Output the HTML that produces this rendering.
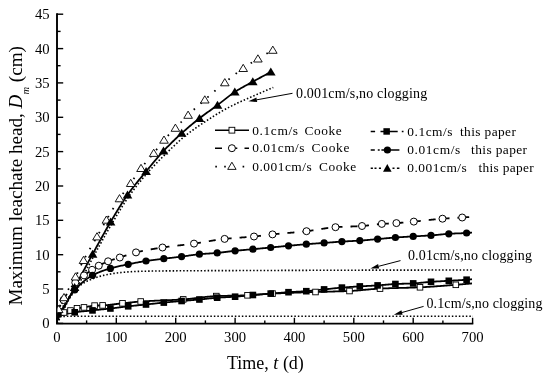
<!DOCTYPE html>
<html><head><meta charset="utf-8"><style>
html,body{margin:0;padding:0;background:#fff;width:550px;height:378px;overflow:hidden}
svg{display:block}
</style></head><body>
<svg width="550" height="378" viewBox="0 0 550 378">
<rect width="550" height="378" fill="#fff"/><g stroke="#000" stroke-width="1.4"><line x1="57" y1="323.4" x2="63.2" y2="323.4"/><line x1="57" y1="306.2" x2="60.6" y2="306.2"/><line x1="57" y1="289.0" x2="63.2" y2="289.0"/><line x1="57" y1="271.8" x2="60.6" y2="271.8"/><line x1="57" y1="254.7" x2="63.2" y2="254.7"/><line x1="57" y1="237.5" x2="60.6" y2="237.5"/><line x1="57" y1="220.3" x2="63.2" y2="220.3"/><line x1="57" y1="203.1" x2="60.6" y2="203.1"/><line x1="57" y1="186.0" x2="63.2" y2="186.0"/><line x1="57" y1="168.8" x2="60.6" y2="168.8"/><line x1="57" y1="151.6" x2="63.2" y2="151.6"/><line x1="57" y1="134.4" x2="60.6" y2="134.4"/><line x1="57" y1="117.3" x2="63.2" y2="117.3"/><line x1="57" y1="100.1" x2="60.6" y2="100.1"/><line x1="57" y1="82.9" x2="63.2" y2="82.9"/><line x1="57" y1="65.7" x2="60.6" y2="65.7"/><line x1="57" y1="48.6" x2="63.2" y2="48.6"/><line x1="57" y1="31.4" x2="60.6" y2="31.4"/><line x1="57" y1="14.2" x2="63.2" y2="14.2"/><line x1="56.9" y1="323.6" x2="56.9" y2="317.8"/><line x1="86.6" y1="323.6" x2="86.6" y2="320.4"/><line x1="116.3" y1="323.6" x2="116.3" y2="317.8"/><line x1="146.0" y1="323.6" x2="146.0" y2="320.4"/><line x1="175.7" y1="323.6" x2="175.7" y2="317.8"/><line x1="205.4" y1="323.6" x2="205.4" y2="320.4"/><line x1="235.1" y1="323.6" x2="235.1" y2="317.8"/><line x1="264.8" y1="323.6" x2="264.8" y2="320.4"/><line x1="294.4" y1="323.6" x2="294.4" y2="317.8"/><line x1="324.1" y1="323.6" x2="324.1" y2="320.4"/><line x1="353.8" y1="323.6" x2="353.8" y2="317.8"/><line x1="383.5" y1="323.6" x2="383.5" y2="320.4"/><line x1="413.2" y1="323.6" x2="413.2" y2="317.8"/><line x1="442.9" y1="323.6" x2="442.9" y2="320.4"/><line x1="472.6" y1="323.6" x2="472.6" y2="317.8"/></g><path d="M57,13.3 V324.5 M56,323.6 H473.3" stroke="#000" stroke-width="1.9" fill="none"/><g font-family="Liberation Serif, serif" font-size="14.7" fill="#000"><text x="49.6" y="328.4" text-anchor="end">0</text><text x="49.6" y="294.0" text-anchor="end">5</text><text x="49.6" y="259.7" text-anchor="end">10</text><text x="49.6" y="225.3" text-anchor="end">15</text><text x="49.6" y="191.0" text-anchor="end">20</text><text x="49.6" y="156.6" text-anchor="end">25</text><text x="49.6" y="122.3" text-anchor="end">30</text><text x="49.6" y="87.9" text-anchor="end">35</text><text x="49.6" y="53.6" text-anchor="end">40</text><text x="49.6" y="19.2" text-anchor="end">45</text><text x="56.9" y="341.7" text-anchor="middle">0</text><text x="116.3" y="341.7" text-anchor="middle">100</text><text x="175.7" y="341.7" text-anchor="middle">200</text><text x="235.1" y="341.7" text-anchor="middle">300</text><text x="294.4" y="341.7" text-anchor="middle">400</text><text x="353.8" y="341.7" text-anchor="middle">500</text><text x="413.2" y="341.7" text-anchor="middle">600</text><text x="472.6" y="341.7" text-anchor="middle">700</text></g><text x="227" y="369.2" font-family="Liberation Serif, serif" font-size="18" fill="#000">Time, <tspan font-style="italic">t</tspan> (d)</text><text transform="translate(22.0,305.6) rotate(-90)" font-family="Liberation Serif, serif" font-size="18" fill="#000" textLength="259.5" lengthAdjust="spacingAndGlyphs">Maximum leachate head, <tspan font-style="italic">D</tspan><tspan font-style="italic" font-size="10" dy="6.5">m</tspan><tspan dy="-6.5"> (cm)</tspan></text><defs><clipPath id="pc"><rect x="57.5" y="0" width="430" height="323"/></clipPath></defs><g clip-path="url(#pc)"><path d="M57.00,323.00 L57.75,320.04 L58.50,318.00 L59.38,317.31 L60.25,316.82 L61.12,316.52 L62.00,316.40 L63.00,316.37 L64.00,316.35 L65.00,316.34 L66.00,316.32 L67.00,316.31 L68.00,316.31 L69.00,316.30 L70.00,316.30 L71.00,316.30 L72.00,316.30 L73.00,316.30 L74.00,316.30 L75.00,316.30 L76.00,316.30 L77.00,316.30 L78.00,316.30 L79.00,316.30 L80.00,316.30 L81.00,316.30 L82.00,316.30 L83.00,316.30 L84.00,316.30 L85.00,316.30 L86.00,316.30 L87.00,316.30 L88.00,316.30 L89.00,316.30 L90.00,316.30 L91.00,316.30 L92.00,316.30 L93.00,316.30 L94.00,316.30 L95.00,316.30 L96.00,316.30 L97.00,316.30 L98.00,316.30 L99.00,316.30 L100.00,316.30 L101.00,316.30 L102.00,316.30 L103.00,316.30 L104.00,316.30 L105.00,316.30 L106.00,316.30 L107.00,316.30 L108.00,316.30 L109.00,316.30 L110.00,316.30 L111.00,316.30 L112.00,316.30 L113.00,316.30 L114.00,316.30 L115.00,316.30 L116.00,316.30 L117.00,316.30 L118.00,316.30 L119.00,316.30 L120.00,316.30 L121.00,316.30 L122.00,316.30 L123.00,316.30 L124.00,316.30 L125.00,316.30 L126.00,316.30 L127.00,316.30 L128.00,316.30 L129.00,316.30 L130.00,316.30 L131.00,316.30 L132.00,316.30 L133.00,316.30 L134.00,316.30 L135.00,316.30 L136.00,316.30 L137.00,316.30 L138.00,316.30 L139.00,316.30 L140.00,316.30 L141.00,316.30 L142.00,316.30 L143.00,316.30 L144.00,316.30 L145.00,316.30 L146.00,316.30 L147.00,316.30 L148.00,316.30 L149.00,316.30 L150.00,316.30 L151.00,316.30 L152.00,316.30 L153.00,316.30 L154.00,316.30 L155.00,316.30 L156.00,316.30 L157.00,316.30 L158.00,316.30 L159.00,316.30 L160.00,316.30 L161.00,316.30 L162.00,316.30 L163.00,316.30 L164.00,316.30 L165.00,316.30 L166.00,316.30 L167.00,316.30 L168.00,316.30 L169.00,316.30 L170.00,316.30 L171.00,316.30 L172.00,316.30 L173.00,316.30 L174.00,316.30 L175.00,316.30 L176.00,316.30 L177.00,316.30 L178.00,316.30 L179.00,316.30 L180.00,316.30 L181.00,316.30 L182.00,316.30 L183.00,316.30 L184.00,316.30 L185.00,316.30 L186.00,316.30 L187.00,316.30 L188.00,316.30 L189.00,316.30 L190.00,316.30 L191.00,316.30 L192.00,316.30 L193.00,316.30 L194.00,316.30 L195.00,316.30 L196.00,316.30 L197.00,316.30 L198.00,316.30 L199.00,316.30 L200.00,316.30 L201.00,316.30 L202.00,316.30 L203.00,316.30 L204.00,316.30 L205.00,316.30 L206.00,316.30 L207.00,316.30 L208.00,316.30 L209.00,316.30 L210.00,316.30 L211.00,316.30 L212.00,316.30 L213.00,316.30 L214.00,316.30 L215.00,316.30 L216.00,316.30 L217.00,316.30 L218.00,316.30 L219.00,316.30 L220.00,316.30 L221.00,316.30 L222.00,316.30 L223.00,316.30 L224.00,316.30 L225.00,316.30 L226.00,316.30 L227.00,316.30 L228.00,316.30 L229.00,316.30 L230.00,316.30 L231.00,316.30 L232.00,316.30 L233.00,316.30 L234.00,316.30 L235.00,316.30 L236.00,316.30 L237.00,316.30 L238.00,316.30 L239.00,316.30 L240.00,316.30 L241.00,316.30 L242.00,316.30 L243.00,316.30 L244.00,316.30 L245.00,316.30 L246.00,316.30 L247.00,316.30 L248.00,316.30 L249.00,316.30 L250.00,316.30 L251.00,316.30 L252.00,316.30 L253.00,316.30 L254.00,316.30 L255.00,316.30 L256.00,316.30 L257.00,316.30 L258.00,316.30 L259.00,316.30 L260.00,316.30 L261.00,316.30 L262.00,316.30 L263.00,316.30 L264.00,316.30 L265.00,316.30 L266.00,316.30 L267.00,316.30 L268.00,316.30 L269.00,316.30 L270.00,316.30 L271.00,316.30 L272.00,316.30 L273.00,316.30 L274.00,316.30 L275.00,316.30 L276.00,316.30 L277.00,316.30 L278.00,316.30 L279.00,316.30 L280.00,316.30 L281.00,316.30 L282.00,316.30 L283.00,316.30 L284.00,316.30 L285.00,316.30 L286.00,316.30 L287.00,316.30 L288.00,316.30 L289.00,316.30 L290.00,316.30 L291.00,316.30 L292.00,316.30 L293.00,316.30 L294.00,316.30 L295.00,316.30 L296.00,316.30 L297.00,316.30 L298.00,316.30 L299.00,316.30 L300.00,316.30 L301.00,316.30 L302.00,316.30 L303.00,316.30 L304.00,316.30 L305.00,316.30 L306.00,316.30 L307.00,316.30 L308.00,316.30 L309.00,316.30 L310.00,316.30 L311.00,316.30 L312.00,316.30 L313.00,316.30 L314.00,316.30 L315.00,316.30 L316.00,316.30 L317.00,316.30 L318.00,316.30 L319.00,316.30 L320.00,316.30 L321.00,316.30 L322.00,316.30 L323.00,316.30 L324.00,316.30 L325.00,316.30 L326.00,316.30 L327.00,316.30 L328.00,316.30 L329.00,316.30 L330.00,316.30 L331.00,316.30 L332.00,316.30 L333.00,316.30 L334.00,316.30 L335.00,316.30 L336.00,316.30 L337.00,316.30 L338.00,316.30 L339.00,316.30 L340.00,316.30 L341.00,316.30 L342.00,316.30 L343.00,316.30 L344.00,316.30 L345.00,316.30 L346.00,316.30 L347.00,316.30 L348.00,316.30 L349.00,316.30 L350.00,316.30 L351.00,316.30 L352.00,316.30 L353.00,316.30 L354.00,316.30 L355.00,316.30 L356.00,316.30 L357.00,316.30 L358.00,316.30 L359.00,316.30 L360.00,316.30 L361.00,316.30 L362.00,316.30 L363.00,316.30 L364.00,316.30 L365.00,316.30 L366.00,316.30 L367.00,316.30 L368.00,316.30 L369.00,316.30 L370.00,316.30 L371.00,316.30 L372.00,316.30 L373.00,316.30 L374.00,316.30 L375.00,316.30 L376.00,316.30 L377.00,316.30 L378.00,316.30 L379.00,316.30 L380.00,316.30 L381.00,316.30 L382.00,316.30 L383.00,316.30 L384.00,316.30 L385.00,316.30 L386.00,316.30 L387.00,316.30 L388.00,316.30 L389.00,316.30 L390.00,316.30 L391.00,316.30 L392.00,316.30 L393.00,316.30 L394.00,316.30 L395.00,316.30 L396.00,316.30 L397.00,316.30 L398.00,316.30 L399.00,316.30 L400.00,316.30 L401.00,316.30 L402.00,316.30 L403.00,316.30 L404.00,316.30 L405.00,316.30 L406.00,316.30 L407.00,316.30 L408.00,316.30 L409.00,316.30 L410.00,316.30 L411.00,316.30 L412.00,316.30 L413.00,316.30 L414.00,316.30 L415.00,316.30 L416.00,316.30 L417.00,316.30 L418.00,316.30 L419.00,316.30 L420.00,316.30 L421.00,316.30 L422.00,316.30 L423.00,316.30 L424.00,316.30 L425.00,316.30 L426.00,316.30 L427.00,316.30 L428.00,316.30 L429.00,316.30 L430.00,316.30 L431.00,316.30 L432.00,316.30 L433.00,316.30 L434.00,316.30 L435.00,316.30 L436.00,316.30 L437.00,316.30 L438.00,316.30 L439.00,316.30 L440.00,316.30 L441.00,316.30 L442.00,316.30 L443.00,316.30 L444.00,316.30 L445.00,316.30 L446.00,316.30 L447.00,316.30 L448.00,316.30 L449.00,316.30 L450.00,316.30 L451.00,316.30 L452.00,316.30 L453.00,316.30 L454.00,316.30 L455.00,316.30 L456.00,316.30 L457.00,316.30 L458.00,316.30 L459.00,316.30 L460.00,316.30 L461.00,316.30 L462.00,316.30 L463.00,316.30 L464.00,316.30 L465.00,316.30 L466.00,316.30 L467.00,316.30 L468.00,316.30 L469.00,316.30 L470.00,316.30 L471.00,316.30 L472.00,316.30 L473.00,316.30" fill="none" stroke="#000" stroke-width="1.6" stroke-dasharray="1.5 2.0"/><path d="M57.00,323.00 L58.00,319.49 L59.00,315.99 L60.00,313.00 L61.00,310.59 L62.00,308.43 L63.00,306.48 L64.00,304.69 L65.00,303.00 L65.92,301.51 L66.85,300.08 L67.78,298.72 L68.70,297.42 L69.62,296.18 L70.55,295.00 L71.48,293.87 L72.40,292.80 L73.35,291.74 L74.30,290.71 L75.25,289.72 L76.20,288.77 L77.15,287.87 L78.10,287.02 L79.05,286.23 L80.00,285.50 L80.91,284.85 L81.82,284.22 L82.73,283.63 L83.64,283.05 L84.55,282.51 L85.46,281.99 L86.37,281.50 L87.28,281.04 L88.19,280.61 L89.10,280.20 L90.07,279.79 L91.03,279.39 L92.00,279.00 L92.97,278.63 L93.93,278.27 L94.90,277.92 L95.87,277.59 L96.83,277.26 L97.80,276.96 L98.77,276.66 L99.73,276.38 L100.70,276.11 L101.67,275.86 L102.63,275.62 L103.60,275.40 L104.57,275.19 L105.54,274.98 L106.52,274.77 L107.49,274.57 L108.46,274.38 L109.43,274.19 L110.41,274.01 L111.38,273.83 L112.35,273.66 L113.32,273.50 L114.29,273.35 L115.27,273.20 L116.24,273.06 L117.21,272.93 L118.18,272.81 L119.16,272.70 L120.13,272.59 L121.10,272.50 L122.09,272.41 L123.09,272.32 L124.08,272.23 L125.08,272.15 L126.07,272.07 L127.07,271.99 L128.06,271.91 L129.06,271.84 L130.05,271.77 L131.05,271.70 L132.04,271.64 L133.04,271.58 L134.03,271.53 L135.03,271.48 L136.02,271.43 L137.02,271.39 L138.01,271.36 L139.01,271.33 L140.00,271.30 L141.00,271.28 L142.00,271.26 L143.00,271.23 L144.00,271.21 L145.00,271.19 L146.00,271.18 L147.00,271.16 L148.00,271.14 L149.00,271.12 L150.00,271.11 L151.00,271.09 L152.00,271.07 L153.00,271.06 L154.00,271.04 L155.00,271.03 L156.00,271.02 L157.00,271.00 L158.00,270.99 L159.00,270.98 L160.00,270.97 L161.00,270.96 L162.00,270.94 L163.00,270.93 L164.00,270.92 L165.00,270.91 L166.00,270.90 L167.00,270.90 L168.00,270.89 L169.00,270.88 L170.00,270.87 L171.00,270.86 L172.00,270.85 L173.00,270.85 L174.00,270.84 L175.00,270.83 L176.00,270.83 L177.00,270.82 L178.00,270.81 L179.00,270.81 L180.00,270.80 L181.00,270.79 L182.00,270.79 L183.00,270.78 L184.00,270.78 L185.00,270.77 L186.00,270.77 L187.00,270.76 L188.00,270.75 L189.00,270.75 L190.00,270.74 L191.00,270.74 L192.00,270.73 L193.00,270.73 L194.00,270.72 L195.00,270.72 L196.00,270.72 L197.00,270.71 L198.00,270.71 L199.00,270.70 L200.00,270.70 L201.00,270.69 L202.00,270.69 L203.00,270.68 L204.00,270.68 L205.00,270.68 L206.00,270.67 L207.00,270.67 L208.00,270.67 L209.00,270.66 L210.00,270.66 L211.00,270.65 L212.00,270.65 L213.00,270.65 L214.00,270.64 L215.00,270.64 L216.00,270.64 L217.00,270.63 L218.00,270.63 L219.00,270.63 L220.00,270.62 L221.00,270.62 L222.00,270.62 L223.00,270.61 L224.00,270.61 L225.00,270.61 L226.00,270.61 L227.00,270.60 L228.00,270.60 L229.00,270.60 L230.00,270.59 L231.00,270.59 L232.00,270.59 L233.00,270.58 L234.00,270.58 L235.00,270.58 L236.00,270.58 L237.00,270.57 L238.00,270.57 L239.00,270.57 L240.00,270.56 L241.00,270.56 L242.00,270.56 L243.00,270.55 L244.00,270.55 L245.00,270.55 L246.00,270.55 L247.00,270.54 L248.00,270.54 L249.00,270.54 L250.00,270.53 L251.00,270.53 L252.00,270.53 L253.00,270.52 L254.00,270.52 L255.00,270.52 L256.00,270.51 L257.00,270.51 L258.00,270.51 L259.00,270.50 L260.00,270.50 L261.00,270.50 L262.00,270.49 L263.00,270.49 L264.00,270.49 L265.00,270.48 L266.00,270.48 L267.00,270.47 L268.00,270.47 L269.00,270.47 L270.00,270.46 L271.00,270.46 L272.00,270.46 L273.00,270.45 L274.00,270.45 L275.00,270.45 L276.00,270.44 L277.00,270.44 L278.00,270.43 L279.00,270.43 L280.00,270.43 L281.00,270.42 L282.00,270.42 L283.00,270.42 L284.00,270.41 L285.00,270.41 L286.00,270.40 L287.00,270.40 L288.00,270.40 L289.00,270.39 L290.00,270.39 L291.00,270.39 L292.00,270.38 L293.00,270.38 L294.00,270.38 L295.00,270.37 L296.00,270.37 L297.00,270.36 L298.00,270.36 L299.00,270.36 L300.00,270.35 L301.00,270.35 L302.00,270.35 L303.00,270.34 L304.00,270.34 L305.00,270.34 L306.00,270.33 L307.00,270.33 L308.00,270.32 L309.00,270.32 L310.00,270.32 L311.00,270.31 L312.00,270.31 L313.00,270.31 L314.00,270.30 L315.00,270.30 L316.00,270.30 L317.00,270.29 L318.00,270.29 L319.00,270.29 L320.00,270.28 L321.00,270.28 L322.00,270.28 L323.00,270.27 L324.00,270.27 L325.00,270.27 L326.00,270.26 L327.00,270.26 L328.00,270.26 L329.00,270.26 L330.00,270.25 L331.00,270.25 L332.00,270.25 L333.00,270.24 L334.00,270.24 L335.00,270.24 L336.00,270.24 L337.00,270.23 L338.00,270.23 L339.00,270.23 L340.00,270.22 L341.00,270.22 L342.00,270.22 L343.00,270.22 L344.00,270.21 L345.00,270.21 L346.00,270.21 L347.00,270.21 L348.00,270.20 L349.00,270.20 L350.00,270.20 L351.00,270.20 L352.00,270.20 L353.00,270.19 L354.00,270.19 L355.00,270.19 L356.00,270.19 L357.00,270.18 L358.00,270.18 L359.00,270.18 L360.00,270.18 L361.00,270.18 L362.00,270.17 L363.00,270.17 L364.00,270.17 L365.00,270.17 L366.00,270.17 L367.00,270.16 L368.00,270.16 L369.00,270.16 L370.00,270.16 L371.00,270.16 L372.00,270.16 L373.00,270.15 L374.00,270.15 L375.00,270.15 L376.00,270.15 L377.00,270.15 L378.00,270.14 L379.00,270.14 L380.00,270.14 L381.00,270.14 L382.00,270.14 L383.00,270.14 L384.00,270.13 L385.00,270.13 L386.00,270.13 L387.00,270.13 L388.00,270.13 L389.00,270.13 L390.00,270.12 L391.00,270.12 L392.00,270.12 L393.00,270.12 L394.00,270.12 L395.00,270.12 L396.00,270.11 L397.00,270.11 L398.00,270.11 L399.00,270.11 L400.00,270.11 L401.00,270.11 L402.00,270.11 L403.00,270.10 L404.00,270.10 L405.00,270.10 L406.00,270.10 L407.00,270.10 L408.00,270.10 L409.00,270.09 L410.00,270.09 L411.00,270.09 L412.00,270.09 L413.00,270.09 L414.00,270.09 L415.00,270.09 L416.00,270.08 L417.00,270.08 L418.00,270.08 L419.00,270.08 L420.00,270.08 L421.00,270.08 L422.00,270.08 L423.00,270.07 L424.00,270.07 L425.00,270.07 L426.00,270.07 L427.00,270.07 L428.00,270.07 L429.00,270.07 L430.00,270.06 L431.00,270.06 L432.00,270.06 L433.00,270.06 L434.00,270.06 L435.00,270.06 L436.00,270.06 L437.00,270.05 L438.00,270.05 L439.00,270.05 L440.00,270.05 L441.00,270.05 L442.00,270.05 L443.00,270.05 L444.00,270.04 L445.00,270.04 L446.00,270.04 L447.00,270.04 L448.00,270.04 L449.00,270.04 L450.00,270.04 L451.00,270.03 L452.00,270.03 L453.00,270.03 L454.00,270.03 L455.00,270.03 L456.00,270.03 L457.00,270.02 L458.00,270.02 L459.00,270.02 L460.00,270.02 L461.00,270.02 L462.00,270.02 L463.00,270.02 L464.00,270.01 L465.00,270.01 L466.00,270.01 L467.00,270.01 L468.00,270.01 L469.00,270.01 L470.00,270.00 L471.00,270.00 L472.00,270.00 L473.00,270.00" fill="none" stroke="#000" stroke-width="1.6" stroke-dasharray="1.5 2.0"/><path d="M57.20,323.40 L58.16,321.54 L59.12,319.69 L60.08,317.83 L61.04,315.94 L62.00,314.00 L62.92,312.03 L63.83,309.96 L64.75,307.85 L65.67,305.77 L66.58,303.80 L67.50,302.00 L68.43,300.34 L69.36,298.80 L70.29,297.33 L71.22,295.92 L72.15,294.56 L73.08,293.21 L74.01,291.85 L74.94,290.46 L75.87,289.02 L76.80,287.50 L77.80,285.80 L78.80,284.06 L79.80,282.28 L80.80,280.48 L81.80,278.64 L82.80,276.79 L83.80,274.91 L84.80,273.01 L85.80,271.11 L86.80,269.20 L87.80,267.28 L88.80,265.36 L89.80,263.45 L90.80,261.55 L91.80,259.66 L92.80,257.78 L93.80,255.93 L94.80,254.10 L95.75,252.37 L96.71,250.64 L97.66,248.90 L98.61,247.17 L99.56,245.44 L100.52,243.71 L101.47,241.98 L102.42,240.26 L103.37,238.54 L104.33,236.83 L105.28,235.13 L106.23,233.43 L107.18,231.75 L108.14,230.08 L109.09,228.41 L110.04,226.76 L110.99,225.13 L111.95,223.51 L112.90,221.90 L113.90,220.22 L114.90,218.55 L115.90,216.87 L116.90,215.20 L117.90,213.54 L118.90,211.89 L119.90,210.24 L120.90,208.62 L121.90,207.00 L122.90,205.41 L123.90,203.83 L124.90,202.27 L125.90,200.74 L126.90,199.24 L127.90,197.76 L128.90,196.31 L129.90,194.90 L130.89,193.52 L131.89,192.16 L132.88,190.82 L133.88,189.49 L134.87,188.19 L135.87,186.90 L136.86,185.63 L137.86,184.37 L138.85,183.13 L139.85,181.90 L140.84,180.69 L141.84,179.49 L142.83,178.30 L143.83,177.12 L144.82,175.96 L145.82,174.81 L146.81,173.66 L147.81,172.53 L148.80,171.40 L149.76,170.32 L150.73,169.25 L151.69,168.20 L152.66,167.15 L153.62,166.12 L154.59,165.10 L155.55,164.09 L156.52,163.09 L157.48,162.10 L158.45,161.11 L159.41,160.14 L160.38,159.17 L161.34,158.20 L162.31,157.25 L163.27,156.29 L164.24,155.35 L165.20,154.40 L166.18,153.44 L167.16,152.48 L168.14,151.52 L169.12,150.56 L170.10,149.61 L171.09,148.66 L172.07,147.71 L173.05,146.77 L174.03,145.84 L175.01,144.91 L175.99,143.99 L176.97,143.08 L177.95,142.17 L178.93,141.28 L179.91,140.40 L180.90,139.53 L181.88,138.68 L182.86,137.83 L183.84,137.01 L184.82,136.20 L185.80,135.40 L186.77,134.63 L187.74,133.87 L188.72,133.12 L189.69,132.38 L190.66,131.65 L191.63,130.94 L192.61,130.23 L193.58,129.53 L194.55,128.84 L195.52,128.16 L196.49,127.49 L197.47,126.82 L198.44,126.15 L199.41,125.50 L200.38,124.84 L201.36,124.19 L202.33,123.54 L203.30,122.90 L204.30,122.24 L205.30,121.58 L206.30,120.92 L207.30,120.26 L208.30,119.61 L209.30,118.96 L210.30,118.31 L211.30,117.67 L212.30,117.03 L213.30,116.40 L214.30,115.76 L215.30,115.14 L216.30,114.52 L217.30,113.90 L218.30,113.29 L219.30,112.69 L220.30,112.09 L221.30,111.50 L222.30,110.92 L223.30,110.35 L224.30,109.78 L225.30,109.22 L226.30,108.67 L227.30,108.13 L228.30,107.60 L229.27,107.09 L230.24,106.59 L231.21,106.10 L232.18,105.62 L233.15,105.14 L234.12,104.66 L235.09,104.20 L236.06,103.74 L237.03,103.28 L238.00,102.83 L238.97,102.38 L239.94,101.94 L240.91,101.50 L241.89,101.06 L242.86,100.63 L243.83,100.20 L244.80,99.77 L245.77,99.34 L246.74,98.91 L247.71,98.49 L248.68,98.06 L249.65,97.64 L250.62,97.21 L251.59,96.79 L252.56,96.36 L253.53,95.93 L254.50,95.50 L255.49,95.06 L256.48,94.63 L257.47,94.19 L258.46,93.76 L259.45,93.33 L260.44,92.90 L261.43,92.48 L262.42,92.05 L263.41,91.63 L264.39,91.21 L265.38,90.78 L266.37,90.36 L267.36,89.94 L268.35,89.52 L269.34,89.10 L270.33,88.67 L271.32,88.25 L272.31,87.83 L273.30,87.40" fill="none" stroke="#000" stroke-width="1.6" stroke-dasharray="1.5 2.0"/><path d="M57.00,317.50 L58.00,316.75 L59.00,315.95 L60.00,315.15 L61.00,314.36 L62.00,313.64 L63.00,313.00 L64.00,312.50 L64.93,312.13 L65.86,311.82 L66.79,311.54 L67.71,311.29 L68.64,311.04 L69.57,310.78 L70.50,310.50 L71.43,310.18 L72.36,309.83 L73.29,309.47 L74.21,309.12 L75.14,308.79 L76.07,308.51 L77.00,308.30 L78.00,308.13 L79.00,307.99 L80.00,307.87 L81.00,307.76 L82.00,307.65 L83.00,307.53 L84.00,307.40 L84.96,307.25 L85.93,307.07 L86.89,306.87 L87.85,306.67 L88.82,306.46 L89.78,306.26 L90.75,306.08 L91.71,305.91 L92.67,305.77 L93.64,305.66 L94.60,305.60 L95.60,305.56 L96.60,305.54 L97.60,305.51 L98.60,305.50 L99.60,305.48 L100.60,305.46 L101.60,305.43 L102.60,305.40 L103.59,305.36 L104.59,305.30 L105.58,305.23 L106.58,305.15 L107.57,305.06 L108.57,304.97 L109.56,304.86 L110.56,304.75 L111.55,304.63 L112.55,304.51 L113.55,304.39 L114.54,304.26 L115.53,304.13 L116.53,304.01 L117.53,303.88 L118.52,303.75 L119.52,303.63 L120.51,303.52 L121.50,303.41 L122.50,303.30 L123.46,303.20 L124.42,303.10 L125.37,303.00 L126.33,302.89 L127.29,302.79 L128.25,302.69 L129.21,302.58 L130.16,302.48 L131.12,302.38 L132.08,302.27 L133.04,302.18 L133.99,302.08 L134.95,301.98 L135.91,301.89 L136.87,301.81 L137.83,301.72 L138.78,301.64 L139.74,301.57 L140.70,301.50 L141.69,301.43 L142.68,301.37 L143.67,301.31 L144.65,301.25 L145.64,301.19 L146.63,301.13 L147.62,301.08 L148.61,301.03 L149.60,300.98 L150.58,300.93 L151.57,300.88 L152.56,300.84 L153.55,300.79 L154.54,300.75 L155.53,300.70 L156.51,300.66 L157.50,300.62 L158.49,300.58 L159.48,300.54 L160.47,300.50 L161.46,300.46 L162.44,300.42 L163.43,300.38 L164.42,300.34 L165.41,300.30 L166.40,300.26 L167.39,300.22 L168.37,300.18 L169.36,300.14 L170.35,300.09 L171.34,300.05 L172.33,300.00 L173.32,299.96 L174.30,299.91 L175.29,299.86 L176.28,299.81 L177.27,299.76 L178.26,299.70 L179.25,299.65 L180.23,299.59 L181.22,299.53 L182.21,299.46 L183.20,299.40 L184.17,299.33 L185.15,299.26 L186.12,299.17 L187.09,299.09 L188.07,298.99 L189.04,298.90 L190.01,298.80 L190.99,298.69 L191.96,298.58 L192.94,298.47 L193.91,298.35 L194.88,298.24 L195.86,298.12 L196.83,298.00 L197.80,297.88 L198.78,297.76 L199.75,297.64 L200.72,297.52 L201.70,297.40 L202.67,297.29 L203.64,297.17 L204.62,297.06 L205.59,296.95 L206.56,296.85 L207.54,296.75 L208.51,296.65 L209.49,296.56 L210.46,296.48 L211.43,296.40 L212.41,296.32 L213.38,296.26 L214.35,296.20 L215.33,296.14 L216.30,296.10 L217.28,296.06 L218.25,296.03 L219.23,295.99 L220.20,295.96 L221.18,295.93 L222.15,295.90 L223.12,295.88 L224.10,295.85 L225.08,295.83 L226.05,295.81 L227.03,295.79 L228.00,295.77 L228.97,295.75 L229.95,295.73 L230.93,295.71 L231.90,295.69 L232.88,295.67 L233.85,295.65 L234.82,295.63 L235.80,295.61 L236.78,295.60 L237.75,295.58 L238.72,295.55 L239.70,295.53 L240.68,295.51 L241.65,295.48 L242.62,295.46 L243.60,295.43 L244.57,295.40 L245.55,295.37 L246.53,295.34 L247.50,295.30 L248.50,295.26 L249.50,295.21 L250.50,295.16 L251.50,295.10 L252.50,295.04 L253.50,294.98 L254.50,294.91 L255.50,294.84 L256.50,294.76 L257.50,294.68 L258.50,294.61 L259.50,294.53 L260.50,294.45 L261.50,294.37 L262.50,294.29 L263.50,294.21 L264.50,294.13 L265.50,294.05 L266.50,293.98 L267.50,293.90 L268.50,293.84 L269.50,293.77 L270.50,293.71 L271.50,293.65 L272.50,293.60 L273.50,293.55 L274.50,293.50 L275.50,293.46 L276.50,293.41 L277.50,293.36 L278.50,293.32 L279.50,293.28 L280.50,293.23 L281.50,293.19 L282.50,293.15 L283.50,293.11 L284.50,293.07 L285.50,293.03 L286.50,292.99 L287.50,292.95 L288.50,292.91 L289.50,292.87 L290.50,292.84 L291.50,292.80 L292.50,292.76 L293.50,292.73 L294.50,292.69 L295.50,292.66 L296.50,292.62 L297.50,292.59 L298.50,292.56 L299.50,292.52 L300.50,292.49 L301.50,292.45 L302.50,292.42 L303.50,292.39 L304.50,292.36 L305.50,292.32 L306.50,292.29 L307.50,292.26 L308.50,292.23 L309.50,292.19 L310.50,292.16 L311.50,292.13 L312.50,292.10 L313.50,292.07 L314.50,292.03 L315.50,292.00 L316.50,291.97 L317.50,291.94 L318.50,291.91 L319.50,291.88 L320.50,291.85 L321.50,291.82 L322.50,291.80 L323.50,291.77 L324.50,291.74 L325.50,291.72 L326.50,291.69 L327.50,291.67 L328.50,291.64 L329.50,291.62 L330.50,291.59 L331.50,291.57 L332.50,291.54 L333.50,291.52 L334.50,291.49 L335.50,291.47 L336.50,291.44 L337.50,291.41 L338.50,291.38 L339.50,291.36 L340.50,291.33 L341.50,291.29 L342.50,291.26 L343.50,291.23 L344.50,291.20 L345.50,291.16 L346.50,291.12 L347.50,291.08 L348.50,291.04 L349.50,291.00 L350.48,290.95 L351.47,290.90 L352.45,290.85 L353.44,290.78 L354.42,290.71 L355.40,290.64 L356.39,290.57 L357.37,290.49 L358.35,290.40 L359.34,290.32 L360.32,290.23 L361.31,290.14 L362.29,290.05 L363.27,289.95 L364.26,289.86 L365.24,289.77 L366.23,289.67 L367.21,289.58 L368.19,289.49 L369.18,289.40 L370.16,289.31 L371.15,289.22 L372.13,289.14 L373.11,289.05 L374.10,288.98 L375.08,288.90 L376.06,288.83 L377.05,288.76 L378.03,288.70 L379.02,288.65 L380.00,288.60 L381.00,288.55 L382.00,288.51 L383.00,288.47 L384.00,288.43 L385.00,288.39 L386.00,288.35 L387.00,288.32 L388.00,288.28 L389.00,288.25 L390.00,288.22 L391.00,288.19 L392.00,288.16 L393.00,288.13 L394.00,288.10 L395.00,288.07 L396.00,288.04 L397.00,288.02 L398.00,287.99 L399.00,287.96 L400.00,287.94 L401.00,287.91 L402.00,287.89 L403.00,287.86 L404.00,287.83 L405.00,287.81 L406.00,287.78 L407.00,287.75 L408.00,287.73 L409.00,287.70 L410.00,287.67 L411.00,287.64 L412.00,287.60 L413.00,287.57 L414.00,287.54 L415.00,287.50 L416.00,287.46 L417.00,287.43 L418.00,287.39 L419.00,287.34 L420.00,287.30 L420.99,287.25 L421.99,287.21 L422.98,287.16 L423.98,287.10 L424.97,287.05 L425.97,286.99 L426.96,286.94 L427.96,286.88 L428.95,286.82 L429.94,286.75 L430.94,286.69 L431.93,286.62 L432.93,286.56 L433.92,286.49 L434.92,286.42 L435.91,286.35 L436.91,286.27 L437.90,286.20 L438.89,286.13 L439.89,286.05 L440.88,285.98 L441.88,285.90 L442.87,285.82 L443.87,285.74 L444.86,285.67 L445.86,285.59 L446.85,285.51 L447.84,285.43 L448.84,285.35 L449.83,285.27 L450.83,285.19 L451.82,285.11 L452.82,285.04 L453.81,284.96 L454.81,284.88 L455.80,284.80 L456.75,284.72 L457.71,284.65 L458.66,284.57 L459.61,284.49 L460.56,284.41 L461.52,284.33 L462.47,284.24 L463.42,284.16 L464.38,284.07 L465.33,283.99 L466.28,283.90 L467.24,283.82 L468.19,283.73 L469.14,283.65 L470.09,283.57 L471.05,283.48 L472.00,283.40" fill="none" stroke="#000" stroke-width="1.8"/><path d="M57.00,316.50 L57.99,316.26 L58.97,316.02 L59.96,315.76 L60.94,315.51 L61.93,315.24 L62.91,314.98 L63.90,314.72 L64.88,314.46 L65.87,314.20 L66.85,313.95 L67.84,313.70 L68.82,313.46 L69.81,313.24 L70.79,313.02 L71.78,312.82 L72.76,312.63 L73.75,312.45 L74.73,312.30 L75.72,312.16 L76.71,312.03 L77.70,311.90 L78.69,311.78 L79.68,311.67 L80.67,311.56 L81.66,311.46 L82.65,311.36 L83.64,311.26 L84.63,311.17 L85.62,311.07 L86.61,310.98 L87.60,310.89 L88.59,310.79 L89.58,310.70 L90.57,310.60 L91.56,310.50 L92.55,310.40 L93.54,310.29 L94.53,310.19 L95.52,310.09 L96.51,309.98 L97.50,309.88 L98.49,309.78 L99.48,309.67 L100.47,309.57 L101.45,309.47 L102.44,309.36 L103.43,309.26 L104.42,309.15 L105.41,309.05 L106.40,308.94 L107.39,308.83 L108.38,308.72 L109.37,308.61 L110.36,308.50 L111.35,308.39 L112.34,308.27 L113.33,308.15 L114.32,308.02 L115.31,307.90 L116.30,307.77 L117.29,307.65 L118.28,307.52 L119.27,307.39 L120.26,307.27 L121.25,307.14 L122.24,307.01 L123.23,306.89 L124.22,306.77 L125.21,306.64 L126.20,306.53 L127.19,306.41 L128.18,306.30 L129.17,306.19 L130.16,306.08 L131.14,305.98 L132.13,305.88 L133.12,305.78 L134.11,305.68 L135.10,305.58 L136.09,305.48 L137.08,305.38 L138.07,305.29 L139.06,305.19 L140.05,305.09 L141.04,305.00 L142.03,304.90 L143.02,304.80 L144.01,304.70 L145.00,304.60 L145.99,304.50 L146.98,304.40 L147.97,304.29 L148.96,304.19 L149.95,304.08 L150.94,303.97 L151.93,303.86 L152.92,303.75 L153.91,303.64 L154.90,303.54 L155.89,303.43 L156.88,303.32 L157.87,303.21 L158.86,303.11 L159.85,303.00 L160.84,302.90 L161.82,302.80 L162.81,302.70 L163.80,302.60 L164.79,302.50 L165.78,302.41 L166.77,302.32 L167.76,302.22 L168.75,302.13 L169.74,302.04 L170.73,301.95 L171.72,301.86 L172.71,301.78 L173.70,301.69 L174.69,301.60 L175.68,301.52 L176.67,301.43 L177.66,301.34 L178.65,301.26 L179.64,301.17 L180.63,301.09 L181.62,301.00 L182.61,300.91 L183.60,300.83 L184.59,300.75 L185.58,300.67 L186.57,300.58 L187.56,300.50 L188.55,300.42 L189.54,300.34 L190.53,300.26 L191.51,300.18 L192.50,300.10 L193.49,300.02 L194.48,299.93 L195.47,299.85 L196.46,299.76 L197.45,299.68 L198.44,299.59 L199.43,299.50 L200.42,299.41 L201.41,299.31 L202.40,299.21 L203.39,299.10 L204.38,299.00 L205.37,298.89 L206.36,298.78 L207.35,298.67 L208.34,298.56 L209.33,298.45 L210.32,298.34 L211.31,298.24 L212.30,298.13 L213.29,298.04 L214.28,297.94 L215.27,297.86 L216.26,297.77 L217.25,297.70 L218.24,297.63 L219.23,297.57 L220.21,297.51 L221.20,297.45 L222.19,297.40 L223.18,297.34 L224.17,297.29 L225.16,297.24 L226.15,297.20 L227.14,297.15 L228.13,297.10 L229.12,297.05 L230.11,297.00 L231.10,296.95 L232.09,296.89 L233.08,296.83 L234.07,296.77 L235.06,296.70 L236.05,296.63 L237.04,296.55 L238.03,296.46 L239.02,296.38 L240.01,296.28 L241.00,296.19 L241.99,296.09 L242.98,295.99 L243.97,295.88 L244.96,295.78 L245.95,295.68 L246.94,295.57 L247.93,295.47 L248.92,295.37 L249.91,295.27 L250.89,295.18 L251.88,295.09 L252.87,295.00 L253.86,294.92 L254.85,294.83 L255.84,294.75 L256.83,294.67 L257.82,294.59 L258.81,294.51 L259.80,294.44 L260.79,294.36 L261.78,294.28 L262.77,294.21 L263.76,294.13 L264.75,294.06 L265.74,293.98 L266.73,293.91 L267.72,293.83 L268.71,293.75 L269.70,293.68 L270.69,293.60 L271.68,293.52 L272.67,293.44 L273.66,293.36 L274.65,293.28 L275.64,293.20 L276.63,293.12 L277.62,293.03 L278.61,292.95 L279.60,292.87 L280.58,292.79 L281.57,292.71 L282.56,292.63 L283.55,292.56 L284.54,292.48 L285.53,292.41 L286.52,292.34 L287.51,292.27 L288.50,292.20 L289.49,292.14 L290.48,292.08 L291.47,292.02 L292.46,291.97 L293.45,291.91 L294.44,291.86 L295.43,291.81 L296.42,291.76 L297.41,291.71 L298.40,291.67 L299.39,291.61 L300.38,291.56 L301.37,291.51 L302.36,291.45 L303.35,291.40 L304.34,291.33 L305.33,291.27 L306.32,291.20 L307.31,291.13 L308.30,291.05 L309.28,290.96 L310.27,290.87 L311.26,290.77 L312.25,290.68 L313.24,290.57 L314.23,290.47 L315.22,290.36 L316.21,290.26 L317.20,290.15 L318.19,290.04 L319.18,289.93 L320.17,289.82 L321.16,289.71 L322.15,289.61 L323.14,289.50 L324.13,289.40 L325.12,289.30 L326.11,289.20 L327.10,289.09 L328.09,288.99 L329.08,288.88 L330.07,288.77 L331.06,288.67 L332.05,288.56 L333.04,288.45 L334.03,288.35 L335.02,288.25 L336.01,288.15 L337.00,288.05 L337.99,287.95 L338.98,287.86 L339.96,287.77 L340.95,287.68 L341.94,287.60 L342.93,287.52 L343.92,287.44 L344.91,287.37 L345.90,287.30 L346.89,287.23 L347.88,287.16 L348.87,287.09 L349.86,287.02 L350.85,286.96 L351.84,286.89 L352.83,286.83 L353.82,286.77 L354.81,286.70 L355.80,286.64 L356.79,286.58 L357.78,286.52 L358.77,286.46 L359.76,286.40 L360.75,286.34 L361.74,286.28 L362.73,286.23 L363.72,286.17 L364.71,286.12 L365.70,286.07 L366.69,286.01 L367.68,285.96 L368.67,285.91 L369.65,285.86 L370.64,285.80 L371.63,285.75 L372.62,285.70 L373.61,285.64 L374.60,285.58 L375.59,285.52 L376.58,285.46 L377.57,285.40 L378.56,285.33 L379.55,285.26 L380.54,285.18 L381.53,285.10 L382.52,285.01 L383.51,284.93 L384.50,284.84 L385.49,284.75 L386.48,284.66 L387.47,284.57 L388.46,284.48 L389.45,284.40 L390.44,284.32 L391.43,284.24 L392.42,284.17 L393.41,284.11 L394.40,284.05 L395.39,284.00 L396.38,283.96 L397.37,283.92 L398.36,283.88 L399.34,283.84 L400.33,283.81 L401.32,283.78 L402.31,283.76 L403.30,283.73 L404.29,283.70 L405.28,283.68 L406.27,283.65 L407.26,283.62 L408.25,283.59 L409.24,283.56 L410.23,283.53 L411.22,283.49 L412.21,283.45 L413.20,283.40 L414.19,283.35 L415.18,283.28 L416.17,283.21 L417.16,283.13 L418.15,283.04 L419.14,282.95 L420.13,282.85 L421.12,282.75 L422.11,282.64 L423.10,282.54 L424.09,282.44 L425.08,282.33 L426.07,282.23 L427.06,282.13 L428.05,282.04 L429.03,281.95 L430.02,281.87 L431.01,281.80 L432.00,281.73 L432.99,281.67 L433.98,281.61 L434.97,281.55 L435.96,281.49 L436.95,281.44 L437.94,281.38 L438.93,281.33 L439.92,281.28 L440.91,281.23 L441.90,281.17 L442.89,281.12 L443.88,281.07 L444.87,281.02 L445.86,280.97 L446.85,280.91 L447.84,280.86 L448.83,280.80 L449.82,280.74 L450.81,280.69 L451.80,280.63 L452.79,280.57 L453.78,280.52 L454.77,280.46 L455.76,280.41 L456.75,280.35 L457.74,280.29 L458.72,280.23 L459.71,280.17 L460.70,280.11 L461.69,280.05 L462.68,279.98 L463.67,279.92 L464.66,279.85 L465.65,279.77 L466.64,279.70 L467.53,279.63 L468.43,279.55 L469.32,279.46 L470.21,279.37 L471.11,279.29 L472.00,279.20" fill="none" stroke="#000" stroke-width="1.8"/><path d="M57.00,318.00 L57.50,316.59 L58.00,315.13 L58.50,313.64 L59.00,312.13 L59.50,310.61 L60.00,309.11 L60.50,307.62 L61.00,306.18 L61.50,304.78 L62.00,303.46 L62.50,302.21 L63.00,301.05 L63.50,300.00" fill="none" stroke="#000" stroke-width="1.8" stroke-dasharray="7 8"/><path d="M63.50,300.00 L63.99,299.04 L64.48,298.10 L64.97,297.18 L65.47,296.29 L65.96,295.42 L66.45,294.57 L66.94,293.74 L67.43,292.94 L67.92,292.15 L68.42,291.39 L68.91,290.64 L69.40,289.92 L69.89,289.21 L70.38,288.52 L70.88,287.86 L71.37,287.21 L71.86,286.57 L72.35,285.96 L72.84,285.36 L73.33,284.77 L73.83,284.21 L74.32,283.66 L74.81,283.12 L75.30,282.60" fill="none" stroke="#000" stroke-width="1.8" stroke-dasharray="7 8"/><path d="M75.30,282.60 L75.78,282.10 L76.27,281.63 L76.75,281.17 L77.23,280.72 L77.72,280.29 L78.20,279.87 L78.68,279.46 L79.17,279.07 L79.65,278.68 L80.13,278.30 L80.62,277.93 L81.10,277.56 L81.58,277.20 L82.07,276.84 L82.55,276.48 L83.03,276.12 L83.52,275.76 L84.00,275.40" fill="none" stroke="#000" stroke-width="1.8" stroke-dasharray="7 8"/><path d="M84.00,275.40 L84.48,275.04 L84.95,274.69 L85.43,274.34 L85.91,274.00 L86.38,273.66 L86.86,273.32 L87.34,272.99 L87.81,272.66 L88.29,272.33 L88.76,272.01 L89.24,271.68 L89.72,271.37 L90.19,271.05 L90.67,270.73 L91.15,270.42 L91.62,270.11 L92.10,269.80" fill="none" stroke="#000" stroke-width="1.8" stroke-dasharray="7 8"/><path d="M92.10,269.80 L92.58,269.49 L93.06,269.18 L93.54,268.87 L94.01,268.56 L94.49,268.26 L94.97,267.96 L95.45,267.66 L95.93,267.36 L96.41,267.07 L96.89,266.78 L97.36,266.50 L97.84,266.23 L98.32,265.96 L98.80,265.70" fill="none" stroke="#000" stroke-width="1.8" stroke-dasharray="7 8"/><path d="M98.80,265.70 L99.29,265.44 L99.78,265.18 L100.27,264.92 L100.76,264.67 L101.25,264.42 L101.74,264.17 L102.23,263.92 L102.72,263.68 L103.21,263.44 L103.69,263.21 L104.18,262.98 L104.67,262.75 L105.16,262.53 L105.65,262.31 L106.14,262.10 L106.63,261.89 L107.12,261.69 L107.61,261.49 L108.10,261.30" fill="none" stroke="#000" stroke-width="1.8" stroke-dasharray="7 8"/><path d="M108.10,261.30 L108.59,261.11 L109.07,260.93 L109.56,260.75 L110.05,260.58 L110.54,260.41 L111.02,260.24 L111.51,260.08 L112.00,259.92 L112.49,259.76 L112.97,259.61 L113.46,259.45 L113.95,259.30 L114.44,259.15 L114.92,259.00 L115.41,258.85 L115.90,258.70 L116.39,258.56 L116.88,258.41 L117.36,258.26 L117.85,258.11 L118.34,257.96 L118.82,257.81 L119.31,257.65 L119.80,257.50" fill="none" stroke="#000" stroke-width="1.8" stroke-dasharray="7 8"/><path d="M119.80,257.50 L120.29,257.34 L120.78,257.18 L121.27,257.02 L121.76,256.86 L122.25,256.69 L122.75,256.53 L123.24,256.36 L123.73,256.20 L124.22,256.03 L124.71,255.86 L125.20,255.70 L125.69,255.53 L126.18,255.36 L126.67,255.20 L127.16,255.03 L127.65,254.87 L128.15,254.70 L128.64,254.54 L129.13,254.38 L129.62,254.22 L130.11,254.06 L130.60,253.91 L131.09,253.76 L131.58,253.61 L132.07,253.46 L132.56,253.31 L133.05,253.17 L133.55,253.04 L134.04,252.90 L134.53,252.77 L135.02,252.64 L135.51,252.52 L136.00,252.40" fill="none" stroke="#000" stroke-width="1.8" stroke-dasharray="7 8"/><path d="M136.00,252.40 L136.50,252.28 L137.00,252.16 L137.50,252.05 L138.00,251.93 L138.50,251.82 L139.00,251.71 L139.50,251.60 L140.00,251.49 L140.50,251.38 L141.00,251.27 L141.50,251.17 L142.00,251.06 L142.50,250.96 L143.00,250.86 L143.50,250.75 L144.00,250.65 L144.50,250.55 L145.00,250.46 L145.50,250.36 L146.00,250.26 L146.50,250.17 L147.00,250.07 L147.50,249.98 L148.00,249.88 L148.50,249.79 L149.00,249.70 L149.50,249.61 L150.00,249.52 L150.50,249.43 L151.00,249.34 L151.50,249.26 L152.00,249.17 L152.50,249.09 L153.00,249.00 L153.50,248.92 L154.00,248.83 L154.50,248.75 L155.00,248.67 L155.50,248.59 L156.00,248.51 L156.50,248.43 L157.00,248.35 L157.50,248.27 L158.00,248.19 L158.50,248.11 L159.00,248.03 L159.50,247.95 L160.00,247.88 L160.50,247.80 L161.00,247.73 L161.50,247.65 L162.00,247.57 L162.50,247.50" fill="none" stroke="#000" stroke-width="1.8" stroke-dasharray="7 8"/><path d="M162.50,247.50 L163.00,247.43 L163.50,247.35 L164.00,247.28 L164.50,247.21 L165.00,247.14 L165.50,247.07 L166.00,247.00 L166.50,246.93 L167.00,246.87 L167.50,246.80 L168.00,246.73 L168.50,246.67 L169.00,246.61 L169.50,246.54 L170.00,246.48 L170.50,246.42 L171.00,246.36 L171.50,246.29 L172.00,246.23 L172.50,246.17 L173.00,246.11 L173.50,246.05 L174.00,245.99 L174.50,245.94 L175.00,245.88 L175.50,245.82 L176.00,245.76 L176.50,245.70 L177.00,245.65 L177.50,245.59 L178.00,245.53 L178.50,245.47 L179.00,245.42 L179.50,245.36 L180.00,245.30 L180.50,245.25 L181.00,245.19 L181.50,245.13 L182.00,245.08 L182.50,245.02 L183.00,244.96 L183.50,244.90 L184.00,244.85 L184.50,244.79 L185.00,244.73 L185.50,244.67 L186.00,244.61 L186.50,244.55 L187.00,244.49 L187.50,244.43 L188.00,244.37 L188.50,244.31 L189.00,244.25 L189.50,244.19 L190.00,244.12 L190.50,244.06 L191.00,244.00 L191.50,243.93 L192.00,243.87 L192.50,243.80 L193.00,243.74 L193.50,243.67 L194.00,243.60" fill="none" stroke="#000" stroke-width="1.8" stroke-dasharray="7 8"/><path d="M194.00,243.60 L194.49,243.53 L194.99,243.46 L195.48,243.39 L195.97,243.32 L196.47,243.25 L196.96,243.17 L197.45,243.10 L197.95,243.02 L198.44,242.95 L198.94,242.87 L199.43,242.79 L199.92,242.71 L200.42,242.63 L200.91,242.55 L201.40,242.47 L201.90,242.39 L202.39,242.31 L202.88,242.22 L203.38,242.14 L203.87,242.06 L204.36,241.97 L204.86,241.89 L205.35,241.81 L205.85,241.72 L206.34,241.64 L206.83,241.55 L207.33,241.47 L207.82,241.38 L208.31,241.30 L208.81,241.22 L209.30,241.13 L209.79,241.05 L210.29,240.97 L210.78,240.88 L211.27,240.80 L211.77,240.72 L212.26,240.64 L212.75,240.56 L213.25,240.48 L213.74,240.40 L214.24,240.32 L214.73,240.24 L215.22,240.16 L215.72,240.08 L216.21,240.01 L216.70,239.93 L217.20,239.86 L217.69,239.79 L218.18,239.71 L218.68,239.64 L219.17,239.57 L219.66,239.51 L220.16,239.44 L220.65,239.37 L221.15,239.31 L221.64,239.25 L222.13,239.18 L222.63,239.12 L223.12,239.07 L223.61,239.01 L224.11,238.95 L224.60,238.90" fill="none" stroke="#000" stroke-width="1.8" stroke-dasharray="7 8"/><path d="M224.60,238.90 L225.10,238.85 L225.60,238.80 L226.09,238.75 L226.59,238.70 L227.09,238.65 L227.59,238.60 L228.09,238.55 L228.59,238.51 L229.08,238.46 L229.58,238.42 L230.08,238.37 L230.58,238.33 L231.08,238.29 L231.58,238.25 L232.07,238.21 L232.57,238.17 L233.07,238.13 L233.57,238.09 L234.07,238.05 L234.57,238.01 L235.06,237.97 L235.56,237.94 L236.06,237.90 L236.56,237.86 L237.06,237.82 L237.56,237.79 L238.05,237.75 L238.55,237.72 L239.05,237.68 L239.55,237.64 L240.05,237.61 L240.55,237.57 L241.04,237.54 L241.54,237.50 L242.04,237.47 L242.54,237.43 L243.04,237.39 L243.54,237.36 L244.03,237.32 L244.53,237.28 L245.03,237.25 L245.53,237.21 L246.03,237.17 L246.53,237.14 L247.02,237.10 L247.52,237.06 L248.02,237.02 L248.52,236.98 L249.02,236.94 L249.52,236.90 L250.01,236.86 L250.51,236.82 L251.01,236.77 L251.51,236.73 L252.01,236.68 L252.51,236.64 L253.00,236.59 L253.50,236.55 L254.00,236.50" fill="none" stroke="#000" stroke-width="1.8" stroke-dasharray="7 8"/><path d="M254.00,236.50 L254.50,236.45 L255.00,236.40 L255.50,236.35 L256.00,236.30 L256.50,236.25 L257.00,236.19 L257.50,236.14 L258.00,236.08 L258.50,236.03 L259.00,235.97 L259.50,235.91 L260.00,235.85 L260.50,235.80 L261.00,235.74 L261.50,235.68 L262.00,235.62 L262.50,235.56 L263.00,235.50 L263.50,235.44 L264.00,235.38 L264.50,235.32 L265.00,235.26 L265.50,235.20 L266.00,235.14 L266.50,235.08 L267.00,235.02 L267.50,234.96 L268.00,234.90 L268.50,234.84 L269.00,234.78 L269.50,234.73 L270.00,234.67 L270.50,234.62 L271.00,234.56 L271.50,234.51 L272.00,234.45 L272.50,234.40" fill="none" stroke="#000" stroke-width="1.8" stroke-dasharray="7 8"/><path d="M272.50,234.40 L273.00,234.35 L273.50,234.30 L274.00,234.25 L274.50,234.20 L275.00,234.15 L275.50,234.10 L276.00,234.05 L276.50,234.00 L277.00,233.95 L277.50,233.91 L278.00,233.86 L278.50,233.81 L279.00,233.77 L279.50,233.72 L280.00,233.67 L280.50,233.63 L281.00,233.58 L281.50,233.54 L282.00,233.49 L282.50,233.45 L283.00,233.40 L283.50,233.36 L284.00,233.32 L284.50,233.27 L285.00,233.23 L285.50,233.18 L286.00,233.14 L286.50,233.10 L287.00,233.05 L287.50,233.01 L288.00,232.97 L288.50,232.92 L289.00,232.88 L289.50,232.84 L290.00,232.79 L290.50,232.75 L291.00,232.71 L291.50,232.66 L292.00,232.62 L292.50,232.57 L293.00,232.53 L293.50,232.48 L294.00,232.44 L294.50,232.39 L295.00,232.35 L295.50,232.30 L296.00,232.26 L296.50,232.21 L297.00,232.17 L297.50,232.12 L298.00,232.07 L298.50,232.02 L299.00,231.98 L299.50,231.93 L300.00,231.88 L300.50,231.83 L301.00,231.78 L301.50,231.73 L302.00,231.68 L302.50,231.63 L303.00,231.58 L303.50,231.53 L304.00,231.47 L304.50,231.42 L305.00,231.37 L305.50,231.31 L306.00,231.26 L306.50,231.20" fill="none" stroke="#000" stroke-width="1.8" stroke-dasharray="7 8"/><path d="M306.50,231.20 L307.00,231.14 L307.50,231.08 L308.00,231.02 L308.50,230.96 L309.00,230.89 L309.50,230.83 L310.00,230.76 L310.50,230.69 L311.00,230.62 L311.50,230.55 L312.00,230.47 L312.50,230.40 L313.00,230.32 L313.50,230.25 L314.00,230.17 L314.50,230.09 L315.00,230.01 L315.50,229.93 L316.00,229.85 L316.50,229.77 L317.00,229.69 L317.50,229.61 L318.00,229.53 L318.50,229.45 L319.00,229.36 L319.50,229.28 L320.00,229.20 L320.50,229.12 L321.00,229.04 L321.50,228.96 L322.00,228.88 L322.50,228.80 L323.00,228.72 L323.50,228.64 L324.00,228.56 L324.50,228.49 L325.00,228.41 L325.50,228.34 L326.00,228.26 L326.50,228.19 L327.00,228.12 L327.50,228.05 L328.00,227.98 L328.50,227.92 L329.00,227.85 L329.50,227.79 L330.00,227.73 L330.50,227.67 L331.00,227.61 L331.50,227.55 L332.00,227.50 L332.50,227.45 L333.00,227.40 L333.50,227.36 L334.00,227.31 L334.50,227.27 L335.00,227.24 L335.50,227.20" fill="none" stroke="#000" stroke-width="1.8" stroke-dasharray="7 8"/><path d="M335.50,227.20 L336.00,227.17 L336.50,227.13 L337.00,227.10 L337.50,227.07 L338.00,227.05 L338.50,227.02 L339.00,226.99 L339.50,226.96 L340.00,226.94 L340.50,226.91 L341.00,226.89 L341.50,226.87 L342.00,226.85 L342.50,226.82 L343.00,226.80 L343.50,226.78 L344.00,226.76 L344.50,226.74 L345.00,226.72 L345.50,226.71 L346.00,226.69 L346.50,226.67 L347.00,226.65 L347.50,226.63 L348.00,226.62 L348.50,226.60 L349.00,226.58 L349.50,226.56 L350.00,226.55 L350.50,226.53 L351.00,226.51 L351.50,226.49 L352.00,226.48 L352.50,226.46 L353.00,226.44 L353.50,226.42 L354.00,226.40 L354.50,226.38 L355.00,226.36 L355.50,226.34 L356.00,226.32 L356.50,226.30 L357.00,226.27 L357.50,226.25 L358.00,226.23 L358.50,226.20 L359.00,226.17 L359.50,226.15 L360.00,226.12 L360.50,226.09 L361.00,226.06 L361.50,226.03 L362.00,226.00" fill="none" stroke="#000" stroke-width="1.8" stroke-dasharray="7 8"/><path d="M362.00,226.00 L362.50,225.97 L362.99,225.93 L363.49,225.89 L363.98,225.85 L364.48,225.81 L364.97,225.76 L365.46,225.71 L365.96,225.66 L366.45,225.61 L366.95,225.56 L367.44,225.50 L367.94,225.45 L368.44,225.39 L368.93,225.33 L369.43,225.27 L369.92,225.21 L370.42,225.15 L370.91,225.09 L371.41,225.03 L371.90,224.97 L372.39,224.90 L372.89,224.84 L373.38,224.78 L373.88,224.72 L374.38,224.66 L374.87,224.60 L375.37,224.54 L375.86,224.48 L376.36,224.42 L376.85,224.37 L377.35,224.31 L377.84,224.26 L378.34,224.21 L378.83,224.16 L379.32,224.11 L379.82,224.06 L380.31,224.02 L380.81,223.98 L381.31,223.94 L381.80,223.90" fill="none" stroke="#000" stroke-width="1.8" stroke-dasharray="7 8"/><path d="M381.80,223.90 L382.29,223.87 L382.77,223.83 L383.26,223.80 L383.75,223.77 L384.23,223.74 L384.72,223.71 L385.21,223.69 L385.69,223.66 L386.18,223.64 L386.67,223.61 L387.15,223.59 L387.64,223.56 L388.13,223.54 L388.61,223.52 L389.10,223.49 L389.59,223.47 L390.07,223.45 L390.56,223.42 L391.05,223.40 L391.53,223.37 L392.02,223.35 L392.51,223.33 L392.99,223.30 L393.48,223.27 L393.97,223.25 L394.45,223.22 L394.94,223.19 L395.43,223.16 L395.91,223.13 L396.40,223.10" fill="none" stroke="#000" stroke-width="1.8" stroke-dasharray="7 8"/><path d="M396.40,223.10 L396.90,223.07 L397.39,223.03 L397.89,223.00 L398.39,222.96 L398.89,222.92 L399.38,222.89 L399.88,222.85 L400.38,222.81 L400.87,222.77 L401.37,222.73 L401.87,222.69 L402.37,222.64 L402.86,222.60 L403.36,222.56 L403.86,222.52 L404.35,222.47 L404.85,222.43 L405.35,222.38 L405.85,222.34 L406.34,222.29 L406.84,222.25 L407.34,222.20 L407.83,222.16 L408.33,222.11 L408.83,222.06 L409.33,222.02 L409.82,221.97 L410.32,221.92 L410.82,221.88 L411.31,221.83 L411.81,221.79 L412.31,221.74 L412.81,221.69 L413.30,221.65 L413.80,221.60" fill="none" stroke="#000" stroke-width="1.8" stroke-dasharray="7 8"/><path d="M413.80,221.60 L414.29,221.55 L414.79,221.51 L415.28,221.46 L415.78,221.41 L416.27,221.36 L416.77,221.31 L417.26,221.26 L417.76,221.21 L418.25,221.16 L418.75,221.11 L419.24,221.06 L419.74,221.01 L420.23,220.95 L420.73,220.90 L421.22,220.85 L421.72,220.79 L422.21,220.74 L422.71,220.69 L423.20,220.63 L423.70,220.58 L424.19,220.52 L424.69,220.47 L425.18,220.41 L425.68,220.36 L426.17,220.31 L426.67,220.25 L427.16,220.20 L427.66,220.14 L428.15,220.09 L428.64,220.03 L429.14,219.98 L429.63,219.92 L430.13,219.87 L430.62,219.82 L431.12,219.76 L431.61,219.71 L432.11,219.66 L432.60,219.61 L433.10,219.56 L433.59,219.51 L434.09,219.45 L434.58,219.40 L435.08,219.36 L435.57,219.31 L436.07,219.26 L436.56,219.21 L437.06,219.16 L437.55,219.12 L438.05,219.07 L438.54,219.03 L439.04,218.98 L439.53,218.94 L440.03,218.90 L440.52,218.86 L441.02,218.82 L441.51,218.78 L442.01,218.74 L442.50,218.70" fill="none" stroke="#000" stroke-width="1.8" stroke-dasharray="7 8"/><path d="M442.50,218.70 L442.99,218.66 L443.49,218.63 L443.98,218.59 L444.47,218.56 L444.96,218.52 L445.45,218.49 L445.95,218.46 L446.44,218.43 L446.93,218.39 L447.43,218.36 L447.92,218.33 L448.41,218.30 L448.90,218.27 L449.39,218.24 L449.89,218.21 L450.38,218.18 L450.87,218.16 L451.37,218.13 L451.86,218.10 L452.35,218.07 L452.84,218.04 L453.33,218.01 L453.83,217.99 L454.32,217.96 L454.81,217.93 L455.31,217.90 L455.80,217.88 L456.29,217.85 L456.78,217.82 L457.27,217.79 L457.77,217.76 L458.26,217.74 L458.75,217.71 L459.25,217.68 L459.74,217.65 L460.23,217.62 L460.72,217.59 L461.21,217.56 L461.71,217.53 L462.20,217.50" fill="none" stroke="#000" stroke-width="1.8" stroke-dasharray="7 8"/><path d="M462.20,217.50 L462.69,217.47 L463.18,217.44 L463.66,217.41 L464.15,217.38 L464.64,217.35 L465.12,217.31 L465.61,217.28 L466.10,217.25 L466.59,217.22 L467.07,217.19 L467.56,217.16 L468.05,217.13 L468.54,217.09 L469.02,217.06 L469.51,217.03 L470.00,217.00" fill="none" stroke="#000" stroke-width="1.8" stroke-dasharray="7 8"/><path d="M57.00,318.00 L57.99,316.42 L58.97,314.79 L59.96,313.13 L60.94,311.44 L61.93,309.73 L62.91,308.02 L63.90,306.30 L64.88,304.59 L65.87,302.90 L66.85,301.24 L67.84,299.61 L68.82,298.03 L69.81,296.51 L70.79,295.04 L71.78,293.65 L72.76,292.34 L73.75,291.12 L74.73,290.00 L75.72,288.94 L76.71,287.90 L77.70,286.89 L78.69,285.91 L79.68,284.95 L80.67,284.02 L81.66,283.12 L82.65,282.25 L83.64,281.41 L84.63,280.60 L85.62,279.82 L86.61,279.07 L87.60,278.36 L88.59,277.68 L89.58,277.03 L90.57,276.42 L91.56,275.84 L92.55,275.30 L93.54,274.79 L94.53,274.30 L95.52,273.82 L96.51,273.36 L97.50,272.92 L98.49,272.50 L99.48,272.09 L100.47,271.70 L101.45,271.32 L102.44,270.95 L103.43,270.60 L104.42,270.26 L105.41,269.92 L106.40,269.60 L107.39,269.29 L108.38,268.99 L109.37,268.69 L110.36,268.40 L111.35,268.12 L112.34,267.85 L113.33,267.59 L114.32,267.33 L115.31,267.09 L116.30,266.85 L117.29,266.61 L118.28,266.39 L119.27,266.16 L120.26,265.95 L121.25,265.73 L122.24,265.52 L123.23,265.32 L124.22,265.11 L125.21,264.91 L126.20,264.71 L127.19,264.50 L128.18,264.30 L129.17,264.10 L130.16,263.90 L131.14,263.70 L132.13,263.50 L133.12,263.30 L134.11,263.10 L135.10,262.91 L136.09,262.72 L137.08,262.53 L138.07,262.35 L139.06,262.16 L140.05,261.99 L141.04,261.81 L142.03,261.64 L143.02,261.47 L144.01,261.31 L145.00,261.15 L145.99,261.00 L146.98,260.85 L147.97,260.71 L148.96,260.57 L149.95,260.43 L150.94,260.30 L151.93,260.16 L152.92,260.04 L153.91,259.91 L154.90,259.79 L155.89,259.66 L156.88,259.54 L157.87,259.42 L158.86,259.30 L159.85,259.18 L160.84,259.06 L161.82,258.94 L162.81,258.82 L163.80,258.70 L164.79,258.58 L165.78,258.46 L166.77,258.34 L167.76,258.23 L168.75,258.11 L169.74,258.00 L170.73,257.88 L171.72,257.77 L172.71,257.66 L173.70,257.54 L174.69,257.43 L175.68,257.31 L176.67,257.20 L177.66,257.08 L178.65,256.96 L179.64,256.84 L180.63,256.72 L181.62,256.60 L182.61,256.47 L183.60,256.34 L184.59,256.20 L185.58,256.06 L186.57,255.92 L187.56,255.77 L188.55,255.62 L189.54,255.48 L190.53,255.33 L191.51,255.19 L192.50,255.04 L193.49,254.91 L194.48,254.77 L195.47,254.64 L196.46,254.52 L197.45,254.41 L198.44,254.30 L199.43,254.20 L200.42,254.11 L201.41,254.02 L202.40,253.95 L203.39,253.87 L204.38,253.80 L205.37,253.73 L206.36,253.67 L207.35,253.60 L208.34,253.54 L209.33,253.48 L210.32,253.41 L211.31,253.35 L212.30,253.28 L213.29,253.22 L214.28,253.14 L215.27,253.07 L216.26,252.99 L217.25,252.90 L218.24,252.81 L219.23,252.71 L220.21,252.60 L221.20,252.49 L222.19,252.37 L223.18,252.25 L224.17,252.13 L225.16,252.00 L226.15,251.88 L227.14,251.75 L228.13,251.62 L229.12,251.49 L230.11,251.37 L231.10,251.25 L232.09,251.13 L233.08,251.01 L234.07,250.90 L235.06,250.80 L236.05,250.70 L237.04,250.60 L238.03,250.51 L239.02,250.42 L240.01,250.33 L241.00,250.24 L241.99,250.15 L242.98,250.06 L243.97,249.98 L244.96,249.89 L245.95,249.81 L246.94,249.72 L247.93,249.64 L248.92,249.55 L249.91,249.47 L250.89,249.38 L251.88,249.29 L252.87,249.20 L253.86,249.11 L254.85,249.02 L255.84,248.92 L256.83,248.83 L257.82,248.74 L258.81,248.64 L259.80,248.55 L260.79,248.45 L261.78,248.36 L262.77,248.26 L263.76,248.17 L264.75,248.07 L265.74,247.98 L266.73,247.88 L267.72,247.78 L268.71,247.69 L269.70,247.59 L270.69,247.50 L271.68,247.41 L272.67,247.31 L273.66,247.22 L274.65,247.12 L275.64,247.02 L276.63,246.93 L277.62,246.83 L278.61,246.74 L279.60,246.64 L280.58,246.55 L281.57,246.45 L282.56,246.36 L283.55,246.26 L284.54,246.17 L285.53,246.08 L286.52,245.98 L287.51,245.89 L288.50,245.80 L289.49,245.71 L290.48,245.62 L291.47,245.52 L292.46,245.43 L293.45,245.34 L294.44,245.25 L295.43,245.16 L296.42,245.06 L297.41,244.97 L298.40,244.88 L299.39,244.79 L300.38,244.71 L301.37,244.62 L302.36,244.53 L303.35,244.45 L304.34,244.36 L305.33,244.28 L306.32,244.20 L307.31,244.12 L308.30,244.04 L309.28,243.97 L310.27,243.89 L311.26,243.82 L312.25,243.75 L313.24,243.67 L314.23,243.60 L315.22,243.53 L316.21,243.46 L317.20,243.39 L318.19,243.32 L319.18,243.25 L320.17,243.18 L321.16,243.11 L322.15,243.04 L323.14,242.97 L324.13,242.90 L325.12,242.83 L326.11,242.75 L327.10,242.68 L328.09,242.60 L329.08,242.53 L330.07,242.45 L331.06,242.38 L332.05,242.30 L333.04,242.23 L334.03,242.15 L335.02,242.08 L336.01,242.01 L337.00,241.94 L337.99,241.87 L338.98,241.80 L339.96,241.73 L340.95,241.66 L341.94,241.60 L342.93,241.54 L343.92,241.48 L344.91,241.42 L345.90,241.37 L346.89,241.31 L347.88,241.26 L348.87,241.21 L349.86,241.16 L350.85,241.11 L351.84,241.06 L352.83,241.01 L353.82,240.95 L354.81,240.90 L355.80,240.84 L356.79,240.79 L357.78,240.73 L358.77,240.67 L359.76,240.60 L360.75,240.53 L361.74,240.46 L362.73,240.39 L363.72,240.31 L364.71,240.23 L365.70,240.15 L366.69,240.06 L367.68,239.98 L368.67,239.89 L369.65,239.81 L370.64,239.72 L371.63,239.63 L372.62,239.54 L373.61,239.45 L374.60,239.36 L375.59,239.27 L376.58,239.19 L377.57,239.10 L378.56,239.01 L379.55,238.92 L380.54,238.83 L381.53,238.74 L382.52,238.65 L383.51,238.55 L384.50,238.46 L385.49,238.36 L386.48,238.27 L387.47,238.18 L388.46,238.08 L389.45,237.99 L390.44,237.90 L391.43,237.82 L392.42,237.73 L393.41,237.65 L394.40,237.57 L395.39,237.50 L396.38,237.43 L397.37,237.36 L398.36,237.29 L399.34,237.23 L400.33,237.16 L401.32,237.10 L402.31,237.04 L403.30,236.98 L404.29,236.92 L405.28,236.86 L406.27,236.80 L407.26,236.74 L408.25,236.69 L409.24,236.63 L410.23,236.57 L411.22,236.52 L412.21,236.46 L413.20,236.40 L414.19,236.34 L415.18,236.29 L416.17,236.23 L417.16,236.18 L418.15,236.13 L419.14,236.08 L420.13,236.03 L421.12,235.97 L422.11,235.92 L423.10,235.87 L424.09,235.82 L425.08,235.76 L426.07,235.71 L427.06,235.65 L428.05,235.59 L429.03,235.53 L430.02,235.47 L431.01,235.40 L432.00,235.33 L432.99,235.25 L433.98,235.16 L434.97,235.07 L435.96,234.98 L436.95,234.88 L437.94,234.78 L438.93,234.68 L439.92,234.58 L440.91,234.48 L441.90,234.38 L442.89,234.28 L443.88,234.19 L444.87,234.10 L445.86,234.01 L446.85,233.94 L447.84,233.86 L448.83,233.80 L449.82,233.74 L450.81,233.69 L451.80,233.64 L452.79,233.60 L453.78,233.55 L454.77,233.51 L455.76,233.47 L456.75,233.43 L457.74,233.40 L458.72,233.36 L459.71,233.32 L460.70,233.28 L461.69,233.24 L462.68,233.20 L463.67,233.16 L464.66,233.11 L465.65,233.06 L466.64,233.00 L467.53,232.94 L468.43,232.88 L469.32,232.81 L470.21,232.74 L471.11,232.67 L472.00,232.60" fill="none" stroke="#000" stroke-width="1.8"/><path d="M57.00,315.00 L57.85,312.09 L58.70,309.40 L59.58,307.07 L60.47,304.94 L61.35,302.96 L62.23,301.09 L63.12,299.29 L64.00,297.50 L64.96,295.60 L65.92,293.78 L66.88,292.03 L67.83,290.33 L68.79,288.66 L69.75,287.01 L70.71,285.37 L71.67,283.73 L72.62,282.06 L73.58,280.36 L74.54,278.61 L75.50,276.80 L76.50,274.82 L77.50,272.77 L78.50,270.66 L79.50,268.53 L80.50,266.40 L81.50,264.30 L82.50,262.26 L83.50,260.30 L84.46,258.48 L85.43,256.71 L86.39,254.97 L87.36,253.26 L88.32,251.57 L89.29,249.91 L90.25,248.26 L91.21,246.62 L92.18,244.98 L93.14,243.35 L94.11,241.71 L95.07,240.06 L96.04,238.39 L97.00,236.70 L97.94,235.03 L98.88,233.35 L99.82,231.67 L100.76,229.97 L101.70,228.28 L102.64,226.60 L103.58,224.92 L104.52,223.26 L105.46,221.62 L106.40,220.00 L107.34,218.40 L108.27,216.81 L109.21,215.22 L110.14,213.63 L111.08,212.06 L112.01,210.49 L112.95,208.94 L113.89,207.40 L114.82,205.88 L115.76,204.37 L116.69,202.89 L117.63,201.44 L118.56,200.00 L119.50,198.60 L120.43,197.24 L121.37,195.91 L122.30,194.61 L123.23,193.34 L124.17,192.09 L125.10,190.85 L126.03,189.61 L126.97,188.38 L127.90,187.13 L128.83,185.88 L129.77,184.60 L130.70,183.30 L131.64,181.96 L132.57,180.59 L133.51,179.20 L134.45,177.79 L135.38,176.38 L136.32,174.97 L137.25,173.58 L138.19,172.20 L139.13,170.86 L140.06,169.56 L141.00,168.30 L141.98,167.04 L142.95,165.81 L143.93,164.62 L144.91,163.46 L145.88,162.31 L146.86,161.19 L147.84,160.07 L148.82,158.95 L149.79,157.83 L150.77,156.70 L151.75,155.56 L152.72,154.39 L153.70,153.20 L154.64,152.03 L155.57,150.82 L156.51,149.60 L157.45,148.36 L158.38,147.11 L159.32,145.87 L160.25,144.64 L161.19,143.43 L162.13,142.25 L163.06,141.10 L164.00,140.00 L164.95,138.92 L165.90,137.87 L166.85,136.85 L167.80,135.84 L168.75,134.85 L169.70,133.88 L170.65,132.92 L171.60,131.96 L172.55,131.00 L173.50,130.04 L174.45,129.08 L175.40,128.10 L176.38,127.09 L177.35,126.07 L178.33,125.05 L179.31,124.04 L180.28,123.02 L181.26,122.00 L182.24,120.99 L183.22,119.99 L184.19,118.99 L185.17,118.00 L186.15,117.02 L187.12,116.05 L188.10,115.10 L189.08,114.15 L190.06,113.21 L191.05,112.28 L192.03,111.36 L193.01,110.44 L193.99,109.53 L194.98,108.63 L195.96,107.73 L196.94,106.83 L197.92,105.94 L198.91,105.06 L199.89,104.18 L200.87,103.30 L201.85,102.42 L202.84,101.55 L203.82,100.67 L204.80,99.80 L205.80,98.91 L206.80,98.03 L207.80,97.14 L208.80,96.26 L209.80,95.38 L210.80,94.50 L211.80,93.63 L212.80,92.75 L213.80,91.89 L214.80,91.02 L215.80,90.16 L216.80,89.30 L217.80,88.44 L218.80,87.60 L219.80,86.75 L220.80,85.91 L221.80,85.07 L222.80,84.24 L223.80,83.42 L224.80,82.60 L225.77,81.81 L226.74,81.02 L227.71,80.23 L228.67,79.45 L229.64,78.67 L230.61,77.89 L231.58,77.11 L232.55,76.34 L233.52,75.57 L234.48,74.81 L235.45,74.06 L236.42,73.31 L237.39,72.57 L238.36,71.83 L239.33,71.11 L240.29,70.39 L241.26,69.68 L242.23,68.99 L243.20,68.30 L244.18,67.62 L245.16,66.94 L246.14,66.28 L247.12,65.62 L248.10,64.97 L249.08,64.33 L250.06,63.70 L251.04,63.07 L252.02,62.45 L253.00,61.83 L253.98,61.22 L254.96,60.61 L255.94,60.01 L256.92,59.40 L257.90,58.80 L258.89,58.19 L259.89,57.60 L260.88,57.00 L261.87,56.42 L262.87,55.83 L263.86,55.26 L264.85,54.68 L265.85,54.11 L266.84,53.54 L267.83,52.97 L268.83,52.40 L269.82,51.83 L270.81,51.25 L271.81,50.68 L272.80,50.10" fill="none" stroke="#000" stroke-width="1.8" stroke-dasharray="1.6 7.6"/><path d="M57.00,321.00 L57.98,319.14 L58.96,317.27 L59.93,315.41 L60.91,313.54 L61.89,311.67 L62.87,309.80 L63.84,307.93 L64.82,306.06 L65.80,304.20 L66.78,302.33 L67.76,300.47 L68.73,298.60 L69.71,296.74 L70.69,294.89 L71.67,293.03 L72.64,291.18 L73.62,289.34 L74.60,287.50 L75.60,285.62 L76.60,283.74 L77.60,281.87 L78.60,280.00 L79.60,278.13 L80.60,276.26 L81.60,274.39 L82.60,272.53 L83.60,270.67 L84.60,268.81 L85.60,266.96 L86.60,265.11 L87.60,263.27 L88.60,261.42 L89.60,259.59 L90.60,257.75 L91.60,255.92 L92.60,254.10 L93.60,252.28 L94.60,250.45 L95.60,248.62 L96.60,246.79 L97.60,244.97 L98.60,243.14 L99.60,241.32 L100.60,239.51 L101.60,237.70 L102.60,235.89 L103.60,234.10 L104.60,232.32 L105.60,230.55 L106.60,228.79 L107.60,227.04 L108.60,225.31 L109.60,223.60 L110.60,221.90 L111.59,220.22 L112.59,218.55 L113.58,216.88 L114.58,215.21 L115.57,213.55 L116.56,211.90 L117.56,210.26 L118.55,208.63 L119.55,207.02 L120.54,205.42 L121.54,203.85 L122.53,202.29 L123.52,200.76 L124.52,199.25 L125.51,197.77 L126.51,196.32 L127.50,194.90 L128.48,193.53 L129.46,192.18 L130.44,190.86 L131.42,189.55 L132.39,188.27 L133.37,187.01 L134.35,185.76 L135.33,184.52 L136.31,183.30 L137.29,182.09 L138.27,180.88 L139.25,179.69 L140.23,178.50 L141.21,177.31 L142.18,176.13 L143.16,174.95 L144.14,173.77 L145.12,172.59 L146.10,171.40 L147.07,170.22 L148.03,169.05 L149.00,167.87 L149.97,166.70 L150.93,165.52 L151.90,164.35 L152.87,163.19 L153.83,162.03 L154.80,160.88 L155.77,159.73 L156.73,158.60 L157.70,157.47 L158.67,156.36 L159.63,155.26 L160.60,154.17 L161.57,153.10 L162.53,152.04 L163.50,151.00 L164.46,149.98 L165.42,148.98 L166.37,147.98 L167.33,146.99 L168.29,146.01 L169.25,145.04 L170.21,144.08 L171.16,143.13 L172.12,142.19 L173.08,141.26 L174.04,140.33 L174.99,139.42 L175.95,138.51 L176.91,137.60 L177.87,136.71 L178.83,135.82 L179.78,134.94 L180.74,134.07 L181.70,133.20 L182.69,132.31 L183.68,131.43 L184.67,130.56 L185.66,129.70 L186.64,128.84 L187.63,127.99 L188.62,127.15 L189.61,126.31 L190.60,125.48 L191.59,124.66 L192.58,123.85 L193.57,123.04 L194.56,122.23 L195.54,121.43 L196.53,120.64 L197.52,119.86 L198.51,119.08 L199.50,118.30 L200.50,117.52 L201.50,116.76 L202.50,116.00 L203.50,115.26 L204.50,114.52 L205.50,113.79 L206.50,113.06 L207.50,112.34 L208.50,111.62 L209.50,110.90 L210.50,110.18 L211.50,109.47 L212.50,108.75 L213.50,108.03 L214.50,107.30 L215.50,106.58 L216.50,105.84 L217.50,105.10 L218.46,104.38 L219.42,103.64 L220.38,102.90 L221.34,102.15 L222.31,101.39 L223.27,100.63 L224.23,99.87 L225.19,99.11 L226.15,98.35 L227.11,97.60 L228.07,96.85 L229.03,96.11 L229.99,95.39 L230.96,94.68 L231.92,93.98 L232.88,93.30 L233.84,92.64 L234.80,92.00 L235.80,91.36 L236.80,90.73 L237.80,90.11 L238.80,89.51 L239.80,88.91 L240.80,88.33 L241.80,87.76 L242.80,87.19 L243.80,86.63 L244.80,86.08 L245.80,85.53 L246.80,84.98 L247.80,84.44 L248.80,83.89 L249.80,83.35 L250.80,82.80 L251.80,82.25 L252.80,81.70 L253.80,81.15 L254.80,80.60 L255.80,80.05 L256.80,79.51 L257.80,78.96 L258.80,78.42 L259.80,77.89 L260.80,77.35 L261.80,76.81 L262.80,76.28 L263.80,75.75 L264.80,75.21 L265.80,74.68 L266.80,74.14 L267.80,73.61 L268.80,73.07 L269.80,72.54 L270.80,72.00" fill="none" stroke="#000" stroke-width="1.8"/><rect x="61.2" y="309.7" width="5.6" height="5.6" fill="#fff" stroke="#000" stroke-width="0.9"/><rect x="67.7" y="307.7" width="5.6" height="5.6" fill="#fff" stroke="#000" stroke-width="0.9"/><rect x="74.2" y="305.5" width="5.6" height="5.6" fill="#fff" stroke="#000" stroke-width="0.9"/><rect x="81.2" y="304.6" width="5.6" height="5.6" fill="#fff" stroke="#000" stroke-width="0.9"/><rect x="91.8" y="302.8" width="5.6" height="5.6" fill="#fff" stroke="#000" stroke-width="0.9"/><rect x="99.8" y="302.6" width="5.6" height="5.6" fill="#fff" stroke="#000" stroke-width="0.9"/><rect x="119.7" y="300.5" width="5.6" height="5.6" fill="#fff" stroke="#000" stroke-width="0.9"/><rect x="137.9" y="298.7" width="5.6" height="5.6" fill="#fff" stroke="#000" stroke-width="0.9"/><rect x="180.4" y="296.6" width="5.6" height="5.6" fill="#fff" stroke="#000" stroke-width="0.9"/><rect x="213.5" y="293.3" width="5.6" height="5.6" fill="#fff" stroke="#000" stroke-width="0.9"/><rect x="244.7" y="292.5" width="5.6" height="5.6" fill="#fff" stroke="#000" stroke-width="0.9"/><rect x="269.7" y="290.8" width="5.6" height="5.6" fill="#fff" stroke="#000" stroke-width="0.9"/><rect x="312.7" y="289.2" width="5.6" height="5.6" fill="#fff" stroke="#000" stroke-width="0.9"/><rect x="346.7" y="288.2" width="5.6" height="5.6" fill="#fff" stroke="#000" stroke-width="0.9"/><rect x="377.2" y="285.8" width="5.6" height="5.6" fill="#fff" stroke="#000" stroke-width="0.9"/><rect x="417.2" y="284.5" width="5.6" height="5.6" fill="#fff" stroke="#000" stroke-width="0.9"/><rect x="453.0" y="282.0" width="5.6" height="5.6" fill="#fff" stroke="#000" stroke-width="0.9"/><rect x="71.4" y="309.0" width="6.6" height="6.6" fill="#000"/><rect x="89.2" y="307.1" width="6.6" height="6.6" fill="#000"/><rect x="107.1" y="305.2" width="6.6" height="6.6" fill="#000"/><rect x="124.9" y="303.0" width="6.6" height="6.6" fill="#000"/><rect x="142.7" y="301.2" width="6.6" height="6.6" fill="#000"/><rect x="160.5" y="299.3" width="6.6" height="6.6" fill="#000"/><rect x="178.3" y="297.7" width="6.6" height="6.6" fill="#000"/><rect x="196.1" y="296.2" width="6.6" height="6.6" fill="#000"/><rect x="213.9" y="294.4" width="6.6" height="6.6" fill="#000"/><rect x="231.8" y="293.4" width="6.6" height="6.6" fill="#000"/><rect x="249.6" y="291.7" width="6.6" height="6.6" fill="#000"/><rect x="267.4" y="290.3" width="6.6" height="6.6" fill="#000"/><rect x="285.2" y="288.9" width="6.6" height="6.6" fill="#000"/><rect x="303.0" y="287.9" width="6.6" height="6.6" fill="#000"/><rect x="320.8" y="286.1" width="6.6" height="6.6" fill="#000"/><rect x="338.6" y="284.3" width="6.6" height="6.6" fill="#000"/><rect x="356.5" y="283.1" width="6.6" height="6.6" fill="#000"/><rect x="374.3" y="282.1" width="6.6" height="6.6" fill="#000"/><rect x="392.1" y="280.7" width="6.6" height="6.6" fill="#000"/><rect x="409.9" y="280.1" width="6.6" height="6.6" fill="#000"/><rect x="427.7" y="278.5" width="6.6" height="6.6" fill="#000"/><rect x="445.5" y="277.5" width="6.6" height="6.6" fill="#000"/><rect x="463.3" y="276.4" width="6.6" height="6.6" fill="#000"/><circle cx="63.5" cy="300.0" r="3.5" fill="#fff" stroke="#000" stroke-width="1.0"/><circle cx="75.3" cy="282.6" r="3.5" fill="#fff" stroke="#000" stroke-width="1.0"/><circle cx="84.0" cy="275.4" r="3.5" fill="#fff" stroke="#000" stroke-width="1.0"/><circle cx="92.1" cy="269.8" r="3.5" fill="#fff" stroke="#000" stroke-width="1.0"/><circle cx="98.8" cy="265.7" r="3.5" fill="#fff" stroke="#000" stroke-width="1.0"/><circle cx="108.1" cy="261.3" r="3.5" fill="#fff" stroke="#000" stroke-width="1.0"/><circle cx="119.8" cy="257.5" r="3.5" fill="#fff" stroke="#000" stroke-width="1.0"/><circle cx="136.0" cy="252.4" r="3.5" fill="#fff" stroke="#000" stroke-width="1.0"/><circle cx="162.5" cy="247.5" r="3.5" fill="#fff" stroke="#000" stroke-width="1.0"/><circle cx="194.0" cy="243.6" r="3.5" fill="#fff" stroke="#000" stroke-width="1.0"/><circle cx="224.6" cy="238.9" r="3.5" fill="#fff" stroke="#000" stroke-width="1.0"/><circle cx="254.0" cy="236.5" r="3.5" fill="#fff" stroke="#000" stroke-width="1.0"/><circle cx="272.5" cy="234.4" r="3.5" fill="#fff" stroke="#000" stroke-width="1.0"/><circle cx="306.5" cy="231.2" r="3.5" fill="#fff" stroke="#000" stroke-width="1.0"/><circle cx="335.5" cy="227.2" r="3.5" fill="#fff" stroke="#000" stroke-width="1.0"/><circle cx="362.0" cy="226.0" r="3.5" fill="#fff" stroke="#000" stroke-width="1.0"/><circle cx="381.8" cy="223.9" r="3.5" fill="#fff" stroke="#000" stroke-width="1.0"/><circle cx="396.4" cy="223.1" r="3.5" fill="#fff" stroke="#000" stroke-width="1.0"/><circle cx="413.8" cy="221.6" r="3.5" fill="#fff" stroke="#000" stroke-width="1.0"/><circle cx="442.5" cy="218.7" r="3.5" fill="#fff" stroke="#000" stroke-width="1.0"/><circle cx="462.2" cy="217.5" r="3.5" fill="#fff" stroke="#000" stroke-width="1.0"/><circle cx="74.7" cy="290.0" r="3.6" fill="#000"/><circle cx="92.5" cy="275.3" r="3.6" fill="#000"/><circle cx="110.4" cy="268.4" r="3.6" fill="#000"/><circle cx="128.2" cy="264.3" r="3.6" fill="#000"/><circle cx="146.0" cy="261.0" r="3.6" fill="#000"/><circle cx="163.8" cy="258.7" r="3.6" fill="#000"/><circle cx="181.6" cy="256.6" r="3.6" fill="#000"/><circle cx="199.4" cy="254.2" r="3.6" fill="#000"/><circle cx="217.2" cy="252.9" r="3.6" fill="#000"/><circle cx="235.1" cy="250.8" r="3.6" fill="#000"/><circle cx="252.9" cy="249.2" r="3.6" fill="#000"/><circle cx="270.7" cy="247.5" r="3.6" fill="#000"/><circle cx="288.5" cy="245.8" r="3.6" fill="#000"/><circle cx="306.3" cy="244.2" r="3.6" fill="#000"/><circle cx="324.1" cy="242.9" r="3.6" fill="#000"/><circle cx="341.9" cy="241.6" r="3.6" fill="#000"/><circle cx="359.8" cy="240.6" r="3.6" fill="#000"/><circle cx="377.6" cy="239.1" r="3.6" fill="#000"/><circle cx="395.4" cy="237.5" r="3.6" fill="#000"/><circle cx="413.2" cy="236.4" r="3.6" fill="#000"/><circle cx="431.0" cy="235.4" r="3.6" fill="#000"/><circle cx="448.8" cy="233.8" r="3.6" fill="#000"/><circle cx="466.6" cy="233.0" r="3.6" fill="#000"/><polygon points="58.7,305.4 63.0,312.6 54.4,312.6" fill="#fff" stroke="#000" stroke-width="0.9"/><polygon points="64.0,293.5 68.3,300.7 59.7,300.7" fill="#fff" stroke="#000" stroke-width="0.9"/><polygon points="75.5,272.8 79.8,280.0 71.2,280.0" fill="#fff" stroke="#000" stroke-width="0.9"/><polygon points="83.5,256.3 87.8,263.5 79.2,263.5" fill="#fff" stroke="#000" stroke-width="0.9"/><polygon points="97.0,232.7 101.3,239.9 92.7,239.9" fill="#fff" stroke="#000" stroke-width="0.9"/><polygon points="106.4,216.0 110.7,223.2 102.1,223.2" fill="#fff" stroke="#000" stroke-width="0.9"/><polygon points="119.5,194.6 123.8,201.8 115.2,201.8" fill="#fff" stroke="#000" stroke-width="0.9"/><polygon points="130.7,179.3 135.0,186.5 126.4,186.5" fill="#fff" stroke="#000" stroke-width="0.9"/><polygon points="141.0,164.3 145.3,171.5 136.7,171.5" fill="#fff" stroke="#000" stroke-width="0.9"/><polygon points="153.7,149.2 158.0,156.4 149.4,156.4" fill="#fff" stroke="#000" stroke-width="0.9"/><polygon points="164.0,136.0 168.3,143.2 159.7,143.2" fill="#fff" stroke="#000" stroke-width="0.9"/><polygon points="175.4,124.1 179.7,131.3 171.1,131.3" fill="#fff" stroke="#000" stroke-width="0.9"/><polygon points="188.1,111.1 192.4,118.3 183.8,118.3" fill="#fff" stroke="#000" stroke-width="0.9"/><polygon points="204.8,95.8 209.1,103.0 200.5,103.0" fill="#fff" stroke="#000" stroke-width="0.9"/><polygon points="224.8,78.6 229.1,85.8 220.5,85.8" fill="#fff" stroke="#000" stroke-width="0.9"/><polygon points="243.2,64.3 247.5,71.5 238.9,71.5" fill="#fff" stroke="#000" stroke-width="0.9"/><polygon points="257.9,54.8 262.2,62.0 253.6,62.0" fill="#fff" stroke="#000" stroke-width="0.9"/><polygon points="272.8,46.1 277.1,53.3 268.5,53.3" fill="#fff" stroke="#000" stroke-width="0.9"/><polygon points="74.6,283.1 79.4,291.1 69.8,291.1" fill="#000"/><polygon points="92.6,249.7 97.4,257.7 87.8,257.7" fill="#000"/><polygon points="110.6,217.5 115.4,225.5 105.8,225.5" fill="#000"/><polygon points="127.5,190.5 132.3,198.5 122.7,198.5" fill="#000"/><polygon points="146.1,167.0 150.9,175.0 141.3,175.0" fill="#000"/><polygon points="163.5,146.6 168.3,154.6 158.7,154.6" fill="#000"/><polygon points="181.7,128.8 186.5,136.8 176.9,136.8" fill="#000"/><polygon points="199.5,113.9 204.3,121.9 194.7,121.9" fill="#000"/><polygon points="217.5,100.7 222.3,108.7 212.7,108.7" fill="#000"/><polygon points="234.8,87.6 239.6,95.6 230.0,95.6" fill="#000"/><polygon points="252.8,77.3 257.6,85.3 248.0,85.3" fill="#000"/><polygon points="270.8,67.6 275.6,75.6 266.0,75.6" fill="#000"/></g><line x1="215" y1="130.2" x2="249" y2="130.2" stroke="#000" stroke-width="1.6"/><rect x="229.0" y="127.3" width="5.8" height="5.8" fill="#fff" stroke="#000" stroke-width="0.9"/><path d="M215,148.2 H222 M234,148.2 H237.3 M244.5,148.2 H249" stroke="#000" stroke-width="1.6"/><circle cx="231.9" cy="148.2" r="3.5" fill="#fff" stroke="#000" stroke-width="1.0"/><path d="M215.3,166.6 h1.6 M224.2,166.6 h1.6 M242.6,166.6 h1.6" stroke="#000" stroke-width="1.7"/><polygon points="231.9,162.2 236.1,169.4 227.7,169.4" fill="#fff" stroke="#000" stroke-width="0.9"/><path d="M370.7,131.5 H375.1 M380.5,131.5 H397.7 M401.8,131.5 H403.5" stroke="#000" stroke-width="1.6"/><rect x="383.4" y="128.2" width="6.5" height="6.5" fill="#000"/><path d="M370.7,150 H374.8 M377.8,150 H379.7 M381.4,150 H399.4" stroke="#000" stroke-width="1.6"/><circle cx="387.4" cy="150.0" r="3.6" fill="#000"/><path d="M370.7,168.3 H372.9 M374.5,168.3 H376.5 M378.9,168.3 H381 M392.5,168.3 H394.5 M396.9,168.3 H399.4" stroke="#000" stroke-width="1.6"/><polygon points="387.3,164.1 391.6,171.7 383.0,171.7" fill="#000"/><g font-family="Liberation Serif, serif" font-size="13.4" fill="#000"><text x="252.20" y="134.5" letter-spacing="0.633" style="letter-spacing:0.633px">0.1cm/s</text><text x="304.60" y="134.5" letter-spacing="0.550" style="letter-spacing:0.550px">Cooke</text><text x="252.20" y="152.3" letter-spacing="0.521" style="letter-spacing:0.521px">0.01cm/s</text><text x="311.60" y="152.3" letter-spacing="0.725" style="letter-spacing:0.725px">Cooke</text><text x="252.20" y="170.8" letter-spacing="0.513" style="letter-spacing:0.513px">0.001cm/s</text><text x="318.90" y="170.8" letter-spacing="0.575" style="letter-spacing:0.575px">Cooke</text><text x="407.30" y="136.4" letter-spacing="0.533" style="letter-spacing:0.533px">0.1cm/s</text><text x="459.95" y="136.4" letter-spacing="0.389" style="letter-spacing:0.389px">this paper</text><text x="407.30" y="154.4" letter-spacing="0.593" style="letter-spacing:0.593px">0.01cm/s</text><text x="471.05" y="154.4" letter-spacing="0.400" style="letter-spacing:0.400px">this paper</text><text x="407.30" y="172.4" letter-spacing="0.512" style="letter-spacing:0.512px">0.001cm/s</text><text x="478.45" y="172.4" letter-spacing="0.311" style="letter-spacing:0.311px">this paper</text></g><g font-family="Liberation Serif, serif" font-size="14.0" fill="#000"><text x="296.00" y="98.3" letter-spacing="0.163" style="letter-spacing:0.163px">0.001cm/s,no clogging</text><text x="407.90" y="260.1" letter-spacing="0.166" style="letter-spacing:0.166px">0.01cm/s,no clogging</text><text x="426.50" y="307.7" letter-spacing="0.114" style="letter-spacing:0.114px">0.1cm/s,no clogging</text></g><line x1="292.5" y1="93.3" x2="256.8" y2="99.8" stroke="#000" stroke-width="1.0"/><polygon points="248.4,101.3 256.4,97.5 257.2,102.0" fill="#000"/><line x1="400.5" y1="260.6" x2="378.6" y2="266.3" stroke="#000" stroke-width="1.0"/><polygon points="370.4,268.4 378.1,264.0 379.2,268.5" fill="#000"/><line x1="423.6" y1="306.4" x2="402.0" y2="312.5" stroke="#000" stroke-width="1.0"/><polygon points="393.8,314.8 401.4,310.3 402.6,314.7" fill="#000"/>
</svg>
</body></html>
